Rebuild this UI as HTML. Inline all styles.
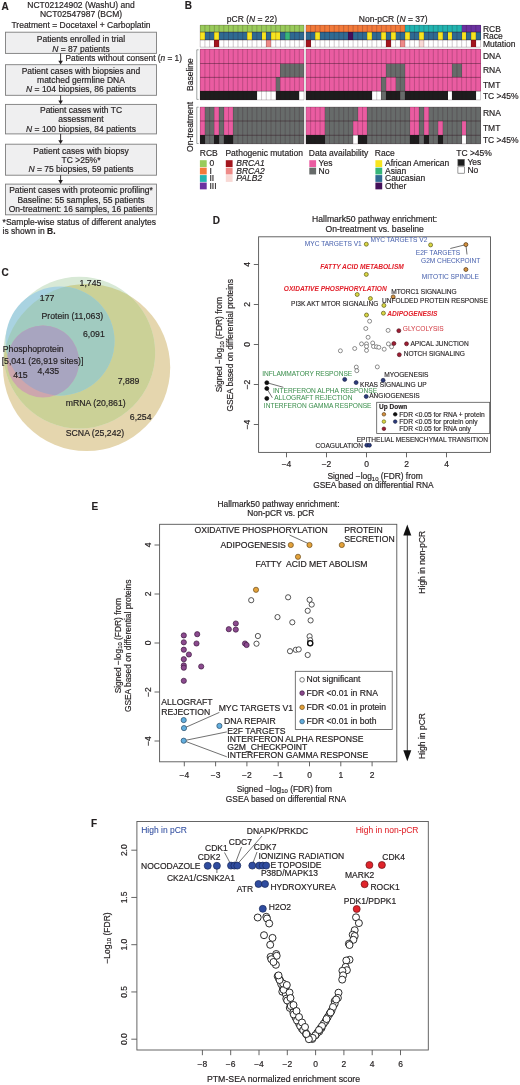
<!DOCTYPE html><html><head><meta charset="utf-8"><title>Figure</title><style>html,body{margin:0;padding:0;background:#fff;width:520px;height:1085px;overflow:hidden}svg{display:block;font-family:"Liberation Sans",Arial,Helvetica,sans-serif}text{stroke:#231f20;stroke-width:0.18px}</style></head><body>
<svg width="520" height="1085" viewBox="0 0 520 1085" fill="#231f20">
<rect x="0" y="0" width="520" height="1085" fill="#fff"/>
<text x="1.60" y="9.60" font-size="10" font-weight="bold" style="stroke-width:0.15px">A</text>
<text x="81.00" y="8.30" font-size="8.5" text-anchor="middle">NCT02124902 (WashU) and</text>
<text x="81.00" y="16.60" font-size="8.5" text-anchor="middle">NCT02547987 (BCM)</text>
<text x="81.00" y="28.00" font-size="8.5" text-anchor="middle">Treatment = Docetaxel + Carboplatin</text>
<rect x="5.50" y="32.20" width="151.00" height="21.20" fill="#efeff0" stroke="#7d7d7d" stroke-width="0.9"/>
<text x="81.00" y="41.70" font-size="8.5" text-anchor="middle">Patients enrolled in trial</text>
<text x="81.00" y="51.60" font-size="8.5" text-anchor="middle"><tspan font-style="italic">N</tspan> = 87 patients</text>
<rect x="5.50" y="64.70" width="151.00" height="30.60" fill="#efeff0" stroke="#7d7d7d" stroke-width="0.9"/>
<text x="81.00" y="74.20" font-size="8.5" text-anchor="middle">Patient cases with biopsies and</text>
<text x="81.00" y="83.00" font-size="8.5" text-anchor="middle">matched germline DNA</text>
<text x="81.00" y="92.20" font-size="8.5" text-anchor="middle"><tspan font-style="italic">N</tspan> = 104 biopsies, 86 patients</text>
<rect x="5.50" y="104.40" width="151.00" height="29.50" fill="#efeff0" stroke="#7d7d7d" stroke-width="0.9"/>
<text x="81.00" y="113.00" font-size="8.5" text-anchor="middle">Patient cases with TC</text>
<text x="81.00" y="122.10" font-size="8.5" text-anchor="middle">assessment</text>
<text x="81.00" y="131.70" font-size="8.5" text-anchor="middle"><tspan font-style="italic">N</tspan> = 100 biopsies, 84 patients</text>
<rect x="5.50" y="144.20" width="151.00" height="31.00" fill="#efeff0" stroke="#7d7d7d" stroke-width="0.9"/>
<text x="81.00" y="153.50" font-size="8.5" text-anchor="middle">Patient cases with biopsy</text>
<text x="81.00" y="162.80" font-size="8.5" text-anchor="middle">TC &gt;25%*</text>
<text x="81.00" y="172.00" font-size="8.5" text-anchor="middle"><tspan font-style="italic">N</tspan> = 75 biopsies, 59 patients</text>
<rect x="5.50" y="184.10" width="151.00" height="30.70" fill="#efeff0" stroke="#7d7d7d" stroke-width="0.9"/>
<text x="81.00" y="193.40" font-size="8.5" text-anchor="middle">Patient cases with proteomic profiling*</text>
<text x="81.00" y="202.60" font-size="8.5" text-anchor="middle">Baseline: 55 samples, 55 patients</text>
<text x="81.00" y="211.90" font-size="8.5" text-anchor="middle">On-treatment: 16 samples, 16 patients</text>
<line x1="60.60" y1="53.40" x2="60.60" y2="61.50" stroke="#231f20" stroke-width="0.9" />
<polygon points="58.30,60.70 62.90,60.70 60.60,64.50" fill="#231f20"/>
<line x1="60.60" y1="95.30" x2="60.60" y2="101.20" stroke="#231f20" stroke-width="0.9" />
<polygon points="58.30,100.40 62.90,100.40 60.60,104.20" fill="#231f20"/>
<line x1="60.60" y1="133.90" x2="60.60" y2="141.00" stroke="#231f20" stroke-width="0.9" />
<polygon points="58.30,140.20 62.90,140.20 60.60,144.00" fill="#231f20"/>
<line x1="60.60" y1="175.20" x2="60.60" y2="180.90" stroke="#231f20" stroke-width="0.9" />
<polygon points="58.30,180.10 62.90,180.10 60.60,183.90" fill="#231f20"/>
<text x="65.50" y="61.40" font-size="8.3">Patients without consent (<tspan font-style="italic">n</tspan> = 1)</text>
<text x="2.60" y="225.00" font-size="8.5">*Sample-wise status of different analytes</text>
<text x="2.60" y="234.20" font-size="8.5">is shown in <tspan font-weight="bold">B.</tspan></text>
<text x="184.80" y="9.30" font-size="10" font-weight="bold" style="stroke-width:0.15px">B</text>
<g shape-rendering="crispEdges">
<rect x="200.20" y="25.20" width="4.72" height="6.90" fill="#99cb5b"/>
<rect x="204.92" y="25.20" width="4.72" height="6.90" fill="#99cb5b"/>
<rect x="209.64" y="25.20" width="4.72" height="6.90" fill="#99cb5b"/>
<rect x="214.36" y="25.20" width="4.72" height="6.90" fill="#99cb5b"/>
<rect x="219.08" y="25.20" width="4.72" height="6.90" fill="#99cb5b"/>
<rect x="223.80" y="25.20" width="4.72" height="6.90" fill="#99cb5b"/>
<rect x="228.52" y="25.20" width="4.72" height="6.90" fill="#99cb5b"/>
<rect x="233.24" y="25.20" width="4.72" height="6.90" fill="#99cb5b"/>
<rect x="237.96" y="25.20" width="4.72" height="6.90" fill="#99cb5b"/>
<rect x="242.68" y="25.20" width="4.72" height="6.90" fill="#99cb5b"/>
<rect x="247.40" y="25.20" width="4.72" height="6.90" fill="#99cb5b"/>
<rect x="252.12" y="25.20" width="4.72" height="6.90" fill="#99cb5b"/>
<rect x="256.84" y="25.20" width="4.72" height="6.90" fill="#99cb5b"/>
<rect x="261.56" y="25.20" width="4.72" height="6.90" fill="#99cb5b"/>
<rect x="266.28" y="25.20" width="4.72" height="6.90" fill="#99cb5b"/>
<rect x="271.00" y="25.20" width="4.72" height="6.90" fill="#99cb5b"/>
<rect x="275.72" y="25.20" width="4.72" height="6.90" fill="#99cb5b"/>
<rect x="280.44" y="25.20" width="4.72" height="6.90" fill="#99cb5b"/>
<rect x="285.16" y="25.20" width="4.72" height="6.90" fill="#99cb5b"/>
<rect x="289.88" y="25.20" width="4.72" height="6.90" fill="#99cb5b"/>
<rect x="294.60" y="25.20" width="4.72" height="6.90" fill="#99cb5b"/>
<rect x="299.32" y="25.20" width="4.72" height="6.90" fill="#99cb5b"/>
<rect x="305.90" y="25.20" width="4.72" height="6.90" fill="#f27a3a"/>
<rect x="310.62" y="25.20" width="4.72" height="6.90" fill="#f27a3a"/>
<rect x="315.34" y="25.20" width="4.72" height="6.90" fill="#f27a3a"/>
<rect x="320.06" y="25.20" width="4.72" height="6.90" fill="#f27a3a"/>
<rect x="324.78" y="25.20" width="4.72" height="6.90" fill="#f27a3a"/>
<rect x="329.50" y="25.20" width="4.72" height="6.90" fill="#f27a3a"/>
<rect x="334.22" y="25.20" width="4.72" height="6.90" fill="#f27a3a"/>
<rect x="338.94" y="25.20" width="4.72" height="6.90" fill="#f27a3a"/>
<rect x="343.66" y="25.20" width="4.72" height="6.90" fill="#f27a3a"/>
<rect x="348.38" y="25.20" width="4.72" height="6.90" fill="#f27a3a"/>
<rect x="353.10" y="25.20" width="4.72" height="6.90" fill="#f27a3a"/>
<rect x="357.82" y="25.20" width="4.72" height="6.90" fill="#f27a3a"/>
<rect x="362.54" y="25.20" width="4.72" height="6.90" fill="#f27a3a"/>
<rect x="367.26" y="25.20" width="4.72" height="6.90" fill="#f27a3a"/>
<rect x="371.98" y="25.20" width="4.72" height="6.90" fill="#f27a3a"/>
<rect x="376.70" y="25.20" width="4.72" height="6.90" fill="#f27a3a"/>
<rect x="381.42" y="25.20" width="4.72" height="6.90" fill="#f27a3a"/>
<rect x="386.14" y="25.20" width="4.72" height="6.90" fill="#f27a3a"/>
<rect x="390.86" y="25.20" width="4.72" height="6.90" fill="#f27a3a"/>
<rect x="395.58" y="25.20" width="4.72" height="6.90" fill="#f27a3a"/>
<rect x="400.30" y="25.20" width="4.72" height="6.90" fill="#f27a3a"/>
<rect x="405.02" y="25.20" width="4.72" height="6.90" fill="#22b4b0"/>
<rect x="409.74" y="25.20" width="4.72" height="6.90" fill="#22b4b0"/>
<rect x="414.46" y="25.20" width="4.72" height="6.90" fill="#22b4b0"/>
<rect x="419.18" y="25.20" width="4.72" height="6.90" fill="#22b4b0"/>
<rect x="423.90" y="25.20" width="4.72" height="6.90" fill="#22b4b0"/>
<rect x="428.62" y="25.20" width="4.72" height="6.90" fill="#22b4b0"/>
<rect x="433.34" y="25.20" width="4.72" height="6.90" fill="#22b4b0"/>
<rect x="438.06" y="25.20" width="4.72" height="6.90" fill="#22b4b0"/>
<rect x="442.78" y="25.20" width="4.72" height="6.90" fill="#22b4b0"/>
<rect x="447.50" y="25.20" width="4.72" height="6.90" fill="#22b4b0"/>
<rect x="452.22" y="25.20" width="4.72" height="6.90" fill="#22b4b0"/>
<rect x="456.94" y="25.20" width="4.72" height="6.90" fill="#22b4b0"/>
<rect x="461.66" y="25.20" width="4.72" height="6.90" fill="#6a31a0"/>
<rect x="466.38" y="25.20" width="4.72" height="6.90" fill="#6a31a0"/>
<rect x="471.10" y="25.20" width="4.72" height="6.90" fill="#6a31a0"/>
<rect x="475.82" y="25.20" width="4.72" height="6.90" fill="#6a31a0"/>
<rect x="200.20" y="32.10" width="4.72" height="7.80" fill="#f7e51f"/>
<rect x="204.92" y="32.10" width="4.72" height="7.80" fill="#2f6a92"/>
<rect x="209.64" y="32.10" width="4.72" height="7.80" fill="#2f6a92"/>
<rect x="214.36" y="32.10" width="4.72" height="7.80" fill="#f7e51f"/>
<rect x="219.08" y="32.10" width="4.72" height="7.80" fill="#2f6a92"/>
<rect x="223.80" y="32.10" width="4.72" height="7.80" fill="#2f6a92"/>
<rect x="228.52" y="32.10" width="4.72" height="7.80" fill="#2f6a92"/>
<rect x="233.24" y="32.10" width="4.72" height="7.80" fill="#2f6a92"/>
<rect x="237.96" y="32.10" width="4.72" height="7.80" fill="#2f6a92"/>
<rect x="242.68" y="32.10" width="4.72" height="7.80" fill="#2f6a92"/>
<rect x="247.40" y="32.10" width="4.72" height="7.80" fill="#f7e51f"/>
<rect x="252.12" y="32.10" width="4.72" height="7.80" fill="#2f6a92"/>
<rect x="256.84" y="32.10" width="4.72" height="7.80" fill="#2f6a92"/>
<rect x="261.56" y="32.10" width="4.72" height="7.80" fill="#f7e51f"/>
<rect x="266.28" y="32.10" width="4.72" height="7.80" fill="#2f6a92"/>
<rect x="271.00" y="32.10" width="4.72" height="7.80" fill="#f7e51f"/>
<rect x="275.72" y="32.10" width="4.72" height="7.80" fill="#f7e51f"/>
<rect x="280.44" y="32.10" width="4.72" height="7.80" fill="#2f6a92"/>
<rect x="285.16" y="32.10" width="4.72" height="7.80" fill="#37b67a"/>
<rect x="289.88" y="32.10" width="4.72" height="7.80" fill="#2f6a92"/>
<rect x="294.60" y="32.10" width="4.72" height="7.80" fill="#2f6a92"/>
<rect x="299.32" y="32.10" width="4.72" height="7.80" fill="#2f6a92"/>
<rect x="305.90" y="32.10" width="4.72" height="7.80" fill="#2f6a92"/>
<rect x="310.62" y="32.10" width="4.72" height="7.80" fill="#2f6a92"/>
<rect x="315.34" y="32.10" width="4.72" height="7.80" fill="#f7e51f"/>
<rect x="320.06" y="32.10" width="4.72" height="7.80" fill="#2f6a92"/>
<rect x="324.78" y="32.10" width="4.72" height="7.80" fill="#2f6a92"/>
<rect x="329.50" y="32.10" width="4.72" height="7.80" fill="#2f6a92"/>
<rect x="334.22" y="32.10" width="4.72" height="7.80" fill="#2f6a92"/>
<rect x="338.94" y="32.10" width="4.72" height="7.80" fill="#2f6a92"/>
<rect x="343.66" y="32.10" width="4.72" height="7.80" fill="#2f6a92"/>
<rect x="348.38" y="32.10" width="4.72" height="7.80" fill="#44105a"/>
<rect x="353.10" y="32.10" width="4.72" height="7.80" fill="#2f6a92"/>
<rect x="357.82" y="32.10" width="4.72" height="7.80" fill="#2f6a92"/>
<rect x="362.54" y="32.10" width="4.72" height="7.80" fill="#2f6a92"/>
<rect x="367.26" y="32.10" width="4.72" height="7.80" fill="#f7e51f"/>
<rect x="371.98" y="32.10" width="4.72" height="7.80" fill="#2f6a92"/>
<rect x="376.70" y="32.10" width="4.72" height="7.80" fill="#2f6a92"/>
<rect x="381.42" y="32.10" width="4.72" height="7.80" fill="#f7e51f"/>
<rect x="386.14" y="32.10" width="4.72" height="7.80" fill="#2f6a92"/>
<rect x="390.86" y="32.10" width="4.72" height="7.80" fill="#f7e51f"/>
<rect x="395.58" y="32.10" width="4.72" height="7.80" fill="#2f6a92"/>
<rect x="400.30" y="32.10" width="4.72" height="7.80" fill="#2f6a92"/>
<rect x="405.02" y="32.10" width="4.72" height="7.80" fill="#f7e51f"/>
<rect x="409.74" y="32.10" width="4.72" height="7.80" fill="#2f6a92"/>
<rect x="414.46" y="32.10" width="4.72" height="7.80" fill="#2f6a92"/>
<rect x="419.18" y="32.10" width="4.72" height="7.80" fill="#f7e51f"/>
<rect x="423.90" y="32.10" width="4.72" height="7.80" fill="#2f6a92"/>
<rect x="428.62" y="32.10" width="4.72" height="7.80" fill="#2f6a92"/>
<rect x="433.34" y="32.10" width="4.72" height="7.80" fill="#2f6a92"/>
<rect x="438.06" y="32.10" width="4.72" height="7.80" fill="#f7e51f"/>
<rect x="442.78" y="32.10" width="4.72" height="7.80" fill="#2f6a92"/>
<rect x="447.50" y="32.10" width="4.72" height="7.80" fill="#f7e51f"/>
<rect x="452.22" y="32.10" width="4.72" height="7.80" fill="#2f6a92"/>
<rect x="456.94" y="32.10" width="4.72" height="7.80" fill="#2f6a92"/>
<rect x="461.66" y="32.10" width="4.72" height="7.80" fill="#f7e51f"/>
<rect x="466.38" y="32.10" width="4.72" height="7.80" fill="#2f6a92"/>
<rect x="471.10" y="32.10" width="4.72" height="7.80" fill="#f7e51f"/>
<rect x="475.82" y="32.10" width="4.72" height="7.80" fill="#2f6a92"/>
<rect x="200.20" y="39.90" width="4.72" height="7.30" fill="#ffffff"/>
<rect x="204.92" y="39.90" width="4.72" height="7.30" fill="#ffffff"/>
<rect x="209.64" y="39.90" width="4.72" height="7.30" fill="#ffffff"/>
<rect x="214.36" y="39.90" width="4.72" height="7.30" fill="#a3161e"/>
<rect x="219.08" y="39.90" width="4.72" height="7.30" fill="#ffffff"/>
<rect x="223.80" y="39.90" width="4.72" height="7.30" fill="#ffffff"/>
<rect x="228.52" y="39.90" width="4.72" height="7.30" fill="#ffffff"/>
<rect x="233.24" y="39.90" width="4.72" height="7.30" fill="#ffffff"/>
<rect x="237.96" y="39.90" width="4.72" height="7.30" fill="#ffffff"/>
<rect x="242.68" y="39.90" width="4.72" height="7.30" fill="#ffffff"/>
<rect x="247.40" y="39.90" width="4.72" height="7.30" fill="#ffffff"/>
<rect x="252.12" y="39.90" width="4.72" height="7.30" fill="#ffffff"/>
<rect x="256.84" y="39.90" width="4.72" height="7.30" fill="#ffffff"/>
<rect x="261.56" y="39.90" width="4.72" height="7.30" fill="#ffffff"/>
<rect x="266.28" y="39.90" width="4.72" height="7.30" fill="#ee8a88"/>
<rect x="271.00" y="39.90" width="4.72" height="7.30" fill="#ffffff"/>
<rect x="275.72" y="39.90" width="4.72" height="7.30" fill="#ffffff"/>
<rect x="280.44" y="39.90" width="4.72" height="7.30" fill="#ffffff"/>
<rect x="285.16" y="39.90" width="4.72" height="7.30" fill="#ffffff"/>
<rect x="289.88" y="39.90" width="4.72" height="7.30" fill="#ffffff"/>
<rect x="294.60" y="39.90" width="4.72" height="7.30" fill="#ffffff"/>
<rect x="299.32" y="39.90" width="4.72" height="7.30" fill="#ffffff"/>
<rect x="305.90" y="39.90" width="4.72" height="7.30" fill="#a3161e"/>
<rect x="310.62" y="39.90" width="4.72" height="7.30" fill="#ffffff"/>
<rect x="315.34" y="39.90" width="4.72" height="7.30" fill="#ffffff"/>
<rect x="320.06" y="39.90" width="4.72" height="7.30" fill="#ffffff"/>
<rect x="324.78" y="39.90" width="4.72" height="7.30" fill="#ffffff"/>
<rect x="329.50" y="39.90" width="4.72" height="7.30" fill="#ffffff"/>
<rect x="334.22" y="39.90" width="4.72" height="7.30" fill="#ffffff"/>
<rect x="338.94" y="39.90" width="4.72" height="7.30" fill="#ffffff"/>
<rect x="343.66" y="39.90" width="4.72" height="7.30" fill="#ffffff"/>
<rect x="348.38" y="39.90" width="4.72" height="7.30" fill="#ffffff"/>
<rect x="353.10" y="39.90" width="4.72" height="7.30" fill="#ffffff"/>
<rect x="357.82" y="39.90" width="4.72" height="7.30" fill="#ffffff"/>
<rect x="362.54" y="39.90" width="4.72" height="7.30" fill="#ffffff"/>
<rect x="367.26" y="39.90" width="4.72" height="7.30" fill="#ffffff"/>
<rect x="371.98" y="39.90" width="4.72" height="7.30" fill="#ffffff"/>
<rect x="376.70" y="39.90" width="4.72" height="7.30" fill="#ffffff"/>
<rect x="381.42" y="39.90" width="4.72" height="7.30" fill="#ffffff"/>
<rect x="386.14" y="39.90" width="4.72" height="7.30" fill="#a3161e"/>
<rect x="390.86" y="39.90" width="4.72" height="7.30" fill="#ffffff"/>
<rect x="395.58" y="39.90" width="4.72" height="7.30" fill="#ffffff"/>
<rect x="400.30" y="39.90" width="4.72" height="7.30" fill="#ee8a88"/>
<rect x="405.02" y="39.90" width="4.72" height="7.30" fill="#ffffff"/>
<rect x="409.74" y="39.90" width="4.72" height="7.30" fill="#ffffff"/>
<rect x="414.46" y="39.90" width="4.72" height="7.30" fill="#ffffff"/>
<rect x="419.18" y="39.90" width="4.72" height="7.30" fill="#f9d9d5"/>
<rect x="423.90" y="39.90" width="4.72" height="7.30" fill="#ffffff"/>
<rect x="428.62" y="39.90" width="4.72" height="7.30" fill="#ffffff"/>
<rect x="433.34" y="39.90" width="4.72" height="7.30" fill="#ffffff"/>
<rect x="438.06" y="39.90" width="4.72" height="7.30" fill="#ffffff"/>
<rect x="442.78" y="39.90" width="4.72" height="7.30" fill="#ffffff"/>
<rect x="447.50" y="39.90" width="4.72" height="7.30" fill="#ffffff"/>
<rect x="452.22" y="39.90" width="4.72" height="7.30" fill="#ffffff"/>
<rect x="456.94" y="39.90" width="4.72" height="7.30" fill="#ffffff"/>
<rect x="461.66" y="39.90" width="4.72" height="7.30" fill="#ffffff"/>
<rect x="466.38" y="39.90" width="4.72" height="7.30" fill="#ffffff"/>
<rect x="471.10" y="39.90" width="4.72" height="7.30" fill="#a3161e"/>
<rect x="475.82" y="39.90" width="4.72" height="7.30" fill="#ffffff"/>
<rect x="200.20" y="49.20" width="4.72" height="14.30" fill="#ea5ca1"/>
<rect x="204.92" y="49.20" width="4.72" height="14.30" fill="#ea5ca1"/>
<rect x="209.64" y="49.20" width="4.72" height="14.30" fill="#ea5ca1"/>
<rect x="214.36" y="49.20" width="4.72" height="14.30" fill="#ea5ca1"/>
<rect x="219.08" y="49.20" width="4.72" height="14.30" fill="#ea5ca1"/>
<rect x="223.80" y="49.20" width="4.72" height="14.30" fill="#ea5ca1"/>
<rect x="228.52" y="49.20" width="4.72" height="14.30" fill="#ea5ca1"/>
<rect x="233.24" y="49.20" width="4.72" height="14.30" fill="#ea5ca1"/>
<rect x="237.96" y="49.20" width="4.72" height="14.30" fill="#ea5ca1"/>
<rect x="242.68" y="49.20" width="4.72" height="14.30" fill="#ea5ca1"/>
<rect x="247.40" y="49.20" width="4.72" height="14.30" fill="#ea5ca1"/>
<rect x="252.12" y="49.20" width="4.72" height="14.30" fill="#ea5ca1"/>
<rect x="256.84" y="49.20" width="4.72" height="14.30" fill="#ea5ca1"/>
<rect x="261.56" y="49.20" width="4.72" height="14.30" fill="#ea5ca1"/>
<rect x="266.28" y="49.20" width="4.72" height="14.30" fill="#ea5ca1"/>
<rect x="271.00" y="49.20" width="4.72" height="14.30" fill="#ea5ca1"/>
<rect x="275.72" y="49.20" width="4.72" height="14.30" fill="#ea5ca1"/>
<rect x="280.44" y="49.20" width="4.72" height="14.30" fill="#ea5ca1"/>
<rect x="285.16" y="49.20" width="4.72" height="14.30" fill="#ea5ca1"/>
<rect x="289.88" y="49.20" width="4.72" height="14.30" fill="#ea5ca1"/>
<rect x="294.60" y="49.20" width="4.72" height="14.30" fill="#ea5ca1"/>
<rect x="299.32" y="49.20" width="4.72" height="14.30" fill="#ea5ca1"/>
<rect x="305.90" y="49.20" width="4.72" height="14.30" fill="#ea5ca1"/>
<rect x="310.62" y="49.20" width="4.72" height="14.30" fill="#ea5ca1"/>
<rect x="315.34" y="49.20" width="4.72" height="14.30" fill="#ea5ca1"/>
<rect x="320.06" y="49.20" width="4.72" height="14.30" fill="#ea5ca1"/>
<rect x="324.78" y="49.20" width="4.72" height="14.30" fill="#ea5ca1"/>
<rect x="329.50" y="49.20" width="4.72" height="14.30" fill="#ea5ca1"/>
<rect x="334.22" y="49.20" width="4.72" height="14.30" fill="#ea5ca1"/>
<rect x="338.94" y="49.20" width="4.72" height="14.30" fill="#ea5ca1"/>
<rect x="343.66" y="49.20" width="4.72" height="14.30" fill="#ea5ca1"/>
<rect x="348.38" y="49.20" width="4.72" height="14.30" fill="#ea5ca1"/>
<rect x="353.10" y="49.20" width="4.72" height="14.30" fill="#ea5ca1"/>
<rect x="357.82" y="49.20" width="4.72" height="14.30" fill="#ea5ca1"/>
<rect x="362.54" y="49.20" width="4.72" height="14.30" fill="#ea5ca1"/>
<rect x="367.26" y="49.20" width="4.72" height="14.30" fill="#ea5ca1"/>
<rect x="371.98" y="49.20" width="4.72" height="14.30" fill="#ea5ca1"/>
<rect x="376.70" y="49.20" width="4.72" height="14.30" fill="#ea5ca1"/>
<rect x="381.42" y="49.20" width="4.72" height="14.30" fill="#ea5ca1"/>
<rect x="386.14" y="49.20" width="4.72" height="14.30" fill="#ea5ca1"/>
<rect x="390.86" y="49.20" width="4.72" height="14.30" fill="#ea5ca1"/>
<rect x="395.58" y="49.20" width="4.72" height="14.30" fill="#ea5ca1"/>
<rect x="400.30" y="49.20" width="4.72" height="14.30" fill="#ea5ca1"/>
<rect x="405.02" y="49.20" width="4.72" height="14.30" fill="#ea5ca1"/>
<rect x="409.74" y="49.20" width="4.72" height="14.30" fill="#ea5ca1"/>
<rect x="414.46" y="49.20" width="4.72" height="14.30" fill="#ea5ca1"/>
<rect x="419.18" y="49.20" width="4.72" height="14.30" fill="#ea5ca1"/>
<rect x="423.90" y="49.20" width="4.72" height="14.30" fill="#ea5ca1"/>
<rect x="428.62" y="49.20" width="4.72" height="14.30" fill="#ea5ca1"/>
<rect x="433.34" y="49.20" width="4.72" height="14.30" fill="#ea5ca1"/>
<rect x="438.06" y="49.20" width="4.72" height="14.30" fill="#ea5ca1"/>
<rect x="442.78" y="49.20" width="4.72" height="14.30" fill="#ea5ca1"/>
<rect x="447.50" y="49.20" width="4.72" height="14.30" fill="#ea5ca1"/>
<rect x="452.22" y="49.20" width="4.72" height="14.30" fill="#ea5ca1"/>
<rect x="456.94" y="49.20" width="4.72" height="14.30" fill="#ea5ca1"/>
<rect x="461.66" y="49.20" width="4.72" height="14.30" fill="#ea5ca1"/>
<rect x="466.38" y="49.20" width="4.72" height="14.30" fill="#ea5ca1"/>
<rect x="471.10" y="49.20" width="4.72" height="14.30" fill="#ea5ca1"/>
<rect x="475.82" y="49.20" width="4.72" height="14.30" fill="#ea5ca1"/>
<rect x="200.20" y="63.50" width="4.72" height="13.90" fill="#ea5ca1"/>
<rect x="204.92" y="63.50" width="4.72" height="13.90" fill="#ea5ca1"/>
<rect x="209.64" y="63.50" width="4.72" height="13.90" fill="#ea5ca1"/>
<rect x="214.36" y="63.50" width="4.72" height="13.90" fill="#ea5ca1"/>
<rect x="219.08" y="63.50" width="4.72" height="13.90" fill="#ea5ca1"/>
<rect x="223.80" y="63.50" width="4.72" height="13.90" fill="#ea5ca1"/>
<rect x="228.52" y="63.50" width="4.72" height="13.90" fill="#ea5ca1"/>
<rect x="233.24" y="63.50" width="4.72" height="13.90" fill="#ea5ca1"/>
<rect x="237.96" y="63.50" width="4.72" height="13.90" fill="#ea5ca1"/>
<rect x="242.68" y="63.50" width="4.72" height="13.90" fill="#ea5ca1"/>
<rect x="247.40" y="63.50" width="4.72" height="13.90" fill="#ea5ca1"/>
<rect x="252.12" y="63.50" width="4.72" height="13.90" fill="#ea5ca1"/>
<rect x="256.84" y="63.50" width="4.72" height="13.90" fill="#ea5ca1"/>
<rect x="261.56" y="63.50" width="4.72" height="13.90" fill="#ea5ca1"/>
<rect x="266.28" y="63.50" width="4.72" height="13.90" fill="#ea5ca1"/>
<rect x="271.00" y="63.50" width="4.72" height="13.90" fill="#ea5ca1"/>
<rect x="275.72" y="63.50" width="4.72" height="13.90" fill="#ea5ca1"/>
<rect x="280.44" y="63.50" width="4.72" height="13.90" fill="#676b6a"/>
<rect x="285.16" y="63.50" width="4.72" height="13.90" fill="#676b6a"/>
<rect x="289.88" y="63.50" width="4.72" height="13.90" fill="#676b6a"/>
<rect x="294.60" y="63.50" width="4.72" height="13.90" fill="#676b6a"/>
<rect x="299.32" y="63.50" width="4.72" height="13.90" fill="#676b6a"/>
<rect x="305.90" y="63.50" width="4.72" height="13.90" fill="#ea5ca1"/>
<rect x="310.62" y="63.50" width="4.72" height="13.90" fill="#ea5ca1"/>
<rect x="315.34" y="63.50" width="4.72" height="13.90" fill="#ea5ca1"/>
<rect x="320.06" y="63.50" width="4.72" height="13.90" fill="#ea5ca1"/>
<rect x="324.78" y="63.50" width="4.72" height="13.90" fill="#ea5ca1"/>
<rect x="329.50" y="63.50" width="4.72" height="13.90" fill="#ea5ca1"/>
<rect x="334.22" y="63.50" width="4.72" height="13.90" fill="#ea5ca1"/>
<rect x="338.94" y="63.50" width="4.72" height="13.90" fill="#ea5ca1"/>
<rect x="343.66" y="63.50" width="4.72" height="13.90" fill="#ea5ca1"/>
<rect x="348.38" y="63.50" width="4.72" height="13.90" fill="#ea5ca1"/>
<rect x="353.10" y="63.50" width="4.72" height="13.90" fill="#ea5ca1"/>
<rect x="357.82" y="63.50" width="4.72" height="13.90" fill="#ea5ca1"/>
<rect x="362.54" y="63.50" width="4.72" height="13.90" fill="#ea5ca1"/>
<rect x="367.26" y="63.50" width="4.72" height="13.90" fill="#ea5ca1"/>
<rect x="371.98" y="63.50" width="4.72" height="13.90" fill="#ea5ca1"/>
<rect x="376.70" y="63.50" width="4.72" height="13.90" fill="#ea5ca1"/>
<rect x="381.42" y="63.50" width="4.72" height="13.90" fill="#ea5ca1"/>
<rect x="386.14" y="63.50" width="4.72" height="13.90" fill="#676b6a"/>
<rect x="390.86" y="63.50" width="4.72" height="13.90" fill="#676b6a"/>
<rect x="395.58" y="63.50" width="4.72" height="13.90" fill="#676b6a"/>
<rect x="400.30" y="63.50" width="4.72" height="13.90" fill="#676b6a"/>
<rect x="405.02" y="63.50" width="4.72" height="13.90" fill="#ea5ca1"/>
<rect x="409.74" y="63.50" width="4.72" height="13.90" fill="#ea5ca1"/>
<rect x="414.46" y="63.50" width="4.72" height="13.90" fill="#ea5ca1"/>
<rect x="419.18" y="63.50" width="4.72" height="13.90" fill="#ea5ca1"/>
<rect x="423.90" y="63.50" width="4.72" height="13.90" fill="#ea5ca1"/>
<rect x="428.62" y="63.50" width="4.72" height="13.90" fill="#ea5ca1"/>
<rect x="433.34" y="63.50" width="4.72" height="13.90" fill="#ea5ca1"/>
<rect x="438.06" y="63.50" width="4.72" height="13.90" fill="#ea5ca1"/>
<rect x="442.78" y="63.50" width="4.72" height="13.90" fill="#ea5ca1"/>
<rect x="447.50" y="63.50" width="4.72" height="13.90" fill="#ea5ca1"/>
<rect x="452.22" y="63.50" width="4.72" height="13.90" fill="#676b6a"/>
<rect x="456.94" y="63.50" width="4.72" height="13.90" fill="#676b6a"/>
<rect x="461.66" y="63.50" width="4.72" height="13.90" fill="#ea5ca1"/>
<rect x="466.38" y="63.50" width="4.72" height="13.90" fill="#ea5ca1"/>
<rect x="471.10" y="63.50" width="4.72" height="13.90" fill="#ea5ca1"/>
<rect x="475.82" y="63.50" width="4.72" height="13.90" fill="#ea5ca1"/>
<rect x="200.20" y="77.40" width="4.72" height="13.90" fill="#ea5ca1"/>
<rect x="204.92" y="77.40" width="4.72" height="13.90" fill="#ea5ca1"/>
<rect x="209.64" y="77.40" width="4.72" height="13.90" fill="#ea5ca1"/>
<rect x="214.36" y="77.40" width="4.72" height="13.90" fill="#ea5ca1"/>
<rect x="219.08" y="77.40" width="4.72" height="13.90" fill="#ea5ca1"/>
<rect x="223.80" y="77.40" width="4.72" height="13.90" fill="#ea5ca1"/>
<rect x="228.52" y="77.40" width="4.72" height="13.90" fill="#ea5ca1"/>
<rect x="233.24" y="77.40" width="4.72" height="13.90" fill="#ea5ca1"/>
<rect x="237.96" y="77.40" width="4.72" height="13.90" fill="#ea5ca1"/>
<rect x="242.68" y="77.40" width="4.72" height="13.90" fill="#ea5ca1"/>
<rect x="247.40" y="77.40" width="4.72" height="13.90" fill="#ea5ca1"/>
<rect x="252.12" y="77.40" width="4.72" height="13.90" fill="#ea5ca1"/>
<rect x="256.84" y="77.40" width="4.72" height="13.90" fill="#ea5ca1"/>
<rect x="261.56" y="77.40" width="4.72" height="13.90" fill="#ea5ca1"/>
<rect x="266.28" y="77.40" width="4.72" height="13.90" fill="#ea5ca1"/>
<rect x="271.00" y="77.40" width="4.72" height="13.90" fill="#ea5ca1"/>
<rect x="275.72" y="77.40" width="4.72" height="13.90" fill="#676b6a"/>
<rect x="280.44" y="77.40" width="4.72" height="13.90" fill="#ea5ca1"/>
<rect x="285.16" y="77.40" width="4.72" height="13.90" fill="#ea5ca1"/>
<rect x="289.88" y="77.40" width="4.72" height="13.90" fill="#ea5ca1"/>
<rect x="294.60" y="77.40" width="4.72" height="13.90" fill="#ea5ca1"/>
<rect x="299.32" y="77.40" width="4.72" height="13.90" fill="#ea5ca1"/>
<rect x="305.90" y="77.40" width="4.72" height="13.90" fill="#ea5ca1"/>
<rect x="310.62" y="77.40" width="4.72" height="13.90" fill="#ea5ca1"/>
<rect x="315.34" y="77.40" width="4.72" height="13.90" fill="#ea5ca1"/>
<rect x="320.06" y="77.40" width="4.72" height="13.90" fill="#ea5ca1"/>
<rect x="324.78" y="77.40" width="4.72" height="13.90" fill="#ea5ca1"/>
<rect x="329.50" y="77.40" width="4.72" height="13.90" fill="#ea5ca1"/>
<rect x="334.22" y="77.40" width="4.72" height="13.90" fill="#ea5ca1"/>
<rect x="338.94" y="77.40" width="4.72" height="13.90" fill="#ea5ca1"/>
<rect x="343.66" y="77.40" width="4.72" height="13.90" fill="#ea5ca1"/>
<rect x="348.38" y="77.40" width="4.72" height="13.90" fill="#ea5ca1"/>
<rect x="353.10" y="77.40" width="4.72" height="13.90" fill="#ea5ca1"/>
<rect x="357.82" y="77.40" width="4.72" height="13.90" fill="#ea5ca1"/>
<rect x="362.54" y="77.40" width="4.72" height="13.90" fill="#ea5ca1"/>
<rect x="367.26" y="77.40" width="4.72" height="13.90" fill="#ea5ca1"/>
<rect x="371.98" y="77.40" width="4.72" height="13.90" fill="#ea5ca1"/>
<rect x="376.70" y="77.40" width="4.72" height="13.90" fill="#ea5ca1"/>
<rect x="381.42" y="77.40" width="4.72" height="13.90" fill="#676b6a"/>
<rect x="386.14" y="77.40" width="4.72" height="13.90" fill="#ea5ca1"/>
<rect x="390.86" y="77.40" width="4.72" height="13.90" fill="#ea5ca1"/>
<rect x="395.58" y="77.40" width="4.72" height="13.90" fill="#676b6a"/>
<rect x="400.30" y="77.40" width="4.72" height="13.90" fill="#676b6a"/>
<rect x="405.02" y="77.40" width="4.72" height="13.90" fill="#ea5ca1"/>
<rect x="409.74" y="77.40" width="4.72" height="13.90" fill="#ea5ca1"/>
<rect x="414.46" y="77.40" width="4.72" height="13.90" fill="#ea5ca1"/>
<rect x="419.18" y="77.40" width="4.72" height="13.90" fill="#ea5ca1"/>
<rect x="423.90" y="77.40" width="4.72" height="13.90" fill="#ea5ca1"/>
<rect x="428.62" y="77.40" width="4.72" height="13.90" fill="#ea5ca1"/>
<rect x="433.34" y="77.40" width="4.72" height="13.90" fill="#ea5ca1"/>
<rect x="438.06" y="77.40" width="4.72" height="13.90" fill="#ea5ca1"/>
<rect x="442.78" y="77.40" width="4.72" height="13.90" fill="#ea5ca1"/>
<rect x="447.50" y="77.40" width="4.72" height="13.90" fill="#ea5ca1"/>
<rect x="452.22" y="77.40" width="4.72" height="13.90" fill="#ea5ca1"/>
<rect x="456.94" y="77.40" width="4.72" height="13.90" fill="#ea5ca1"/>
<rect x="461.66" y="77.40" width="4.72" height="13.90" fill="#ea5ca1"/>
<rect x="466.38" y="77.40" width="4.72" height="13.90" fill="#ea5ca1"/>
<rect x="471.10" y="77.40" width="4.72" height="13.90" fill="#ea5ca1"/>
<rect x="475.82" y="77.40" width="4.72" height="13.90" fill="#ea5ca1"/>
<rect x="200.20" y="91.30" width="4.72" height="8.60" fill="#1d1d1d"/>
<rect x="204.92" y="91.30" width="4.72" height="8.60" fill="#1d1d1d"/>
<rect x="209.64" y="91.30" width="4.72" height="8.60" fill="#1d1d1d"/>
<rect x="214.36" y="91.30" width="4.72" height="8.60" fill="#1d1d1d"/>
<rect x="219.08" y="91.30" width="4.72" height="8.60" fill="#1d1d1d"/>
<rect x="223.80" y="91.30" width="4.72" height="8.60" fill="#1d1d1d"/>
<rect x="228.52" y="91.30" width="4.72" height="8.60" fill="#1d1d1d"/>
<rect x="233.24" y="91.30" width="4.72" height="8.60" fill="#1d1d1d"/>
<rect x="237.96" y="91.30" width="4.72" height="8.60" fill="#1d1d1d"/>
<rect x="242.68" y="91.30" width="4.72" height="8.60" fill="#1d1d1d"/>
<rect x="247.40" y="91.30" width="4.72" height="8.60" fill="#1d1d1d"/>
<rect x="252.12" y="91.30" width="4.72" height="8.60" fill="#1d1d1d"/>
<rect x="256.84" y="91.30" width="4.72" height="8.60" fill="#ffffff"/>
<rect x="261.56" y="91.30" width="4.72" height="8.60" fill="#ffffff"/>
<rect x="266.28" y="91.30" width="4.72" height="8.60" fill="#ffffff"/>
<rect x="271.00" y="91.30" width="4.72" height="8.60" fill="#ffffff"/>
<rect x="275.72" y="91.30" width="4.72" height="8.60" fill="#1d1d1d"/>
<rect x="280.44" y="91.30" width="4.72" height="8.60" fill="#1d1d1d"/>
<rect x="285.16" y="91.30" width="4.72" height="8.60" fill="#1d1d1d"/>
<rect x="289.88" y="91.30" width="4.72" height="8.60" fill="#1d1d1d"/>
<rect x="294.60" y="91.30" width="4.72" height="8.60" fill="#1d1d1d"/>
<rect x="299.32" y="91.30" width="4.72" height="8.60" fill="#ffffff"/>
<rect x="305.90" y="91.30" width="4.72" height="8.60" fill="#1d1d1d"/>
<rect x="310.62" y="91.30" width="4.72" height="8.60" fill="#1d1d1d"/>
<rect x="315.34" y="91.30" width="4.72" height="8.60" fill="#1d1d1d"/>
<rect x="320.06" y="91.30" width="4.72" height="8.60" fill="#1d1d1d"/>
<rect x="324.78" y="91.30" width="4.72" height="8.60" fill="#1d1d1d"/>
<rect x="329.50" y="91.30" width="4.72" height="8.60" fill="#1d1d1d"/>
<rect x="334.22" y="91.30" width="4.72" height="8.60" fill="#1d1d1d"/>
<rect x="338.94" y="91.30" width="4.72" height="8.60" fill="#1d1d1d"/>
<rect x="343.66" y="91.30" width="4.72" height="8.60" fill="#1d1d1d"/>
<rect x="348.38" y="91.30" width="4.72" height="8.60" fill="#1d1d1d"/>
<rect x="353.10" y="91.30" width="4.72" height="8.60" fill="#1d1d1d"/>
<rect x="357.82" y="91.30" width="4.72" height="8.60" fill="#1d1d1d"/>
<rect x="362.54" y="91.30" width="4.72" height="8.60" fill="#1d1d1d"/>
<rect x="367.26" y="91.30" width="4.72" height="8.60" fill="#1d1d1d"/>
<rect x="371.98" y="91.30" width="4.72" height="8.60" fill="#ffffff"/>
<rect x="376.70" y="91.30" width="4.72" height="8.60" fill="#ffffff"/>
<rect x="381.42" y="91.30" width="4.72" height="8.60" fill="#676b6a"/>
<rect x="386.14" y="91.30" width="4.72" height="8.60" fill="#1d1d1d"/>
<rect x="390.86" y="91.30" width="4.72" height="8.60" fill="#1d1d1d"/>
<rect x="395.58" y="91.30" width="4.72" height="8.60" fill="#1d1d1d"/>
<rect x="400.30" y="91.30" width="4.72" height="8.60" fill="#676b6a"/>
<rect x="405.02" y="91.30" width="4.72" height="8.60" fill="#1d1d1d"/>
<rect x="409.74" y="91.30" width="4.72" height="8.60" fill="#1d1d1d"/>
<rect x="414.46" y="91.30" width="4.72" height="8.60" fill="#1d1d1d"/>
<rect x="419.18" y="91.30" width="4.72" height="8.60" fill="#1d1d1d"/>
<rect x="423.90" y="91.30" width="4.72" height="8.60" fill="#1d1d1d"/>
<rect x="428.62" y="91.30" width="4.72" height="8.60" fill="#1d1d1d"/>
<rect x="433.34" y="91.30" width="4.72" height="8.60" fill="#1d1d1d"/>
<rect x="438.06" y="91.30" width="4.72" height="8.60" fill="#1d1d1d"/>
<rect x="442.78" y="91.30" width="4.72" height="8.60" fill="#1d1d1d"/>
<rect x="447.50" y="91.30" width="4.72" height="8.60" fill="#ffffff"/>
<rect x="452.22" y="91.30" width="4.72" height="8.60" fill="#1d1d1d"/>
<rect x="456.94" y="91.30" width="4.72" height="8.60" fill="#1d1d1d"/>
<rect x="461.66" y="91.30" width="4.72" height="8.60" fill="#1d1d1d"/>
<rect x="466.38" y="91.30" width="4.72" height="8.60" fill="#1d1d1d"/>
<rect x="471.10" y="91.30" width="4.72" height="8.60" fill="#1d1d1d"/>
<rect x="475.82" y="91.30" width="4.72" height="8.60" fill="#ffffff"/>
<rect x="200.20" y="107.00" width="4.72" height="14.00" fill="#ea5ca1"/>
<rect x="204.92" y="107.00" width="4.72" height="14.00" fill="#676b6a"/>
<rect x="209.64" y="107.00" width="4.72" height="14.00" fill="#676b6a"/>
<rect x="214.36" y="107.00" width="4.72" height="14.00" fill="#ea5ca1"/>
<rect x="219.08" y="107.00" width="4.72" height="14.00" fill="#676b6a"/>
<rect x="223.80" y="107.00" width="4.72" height="14.00" fill="#ea5ca1"/>
<rect x="228.52" y="107.00" width="4.72" height="14.00" fill="#ea5ca1"/>
<rect x="233.24" y="107.00" width="4.72" height="14.00" fill="#676b6a"/>
<rect x="237.96" y="107.00" width="4.72" height="14.00" fill="#676b6a"/>
<rect x="242.68" y="107.00" width="4.72" height="14.00" fill="#676b6a"/>
<rect x="247.40" y="107.00" width="4.72" height="14.00" fill="#676b6a"/>
<rect x="252.12" y="107.00" width="4.72" height="14.00" fill="#676b6a"/>
<rect x="256.84" y="107.00" width="4.72" height="14.00" fill="#676b6a"/>
<rect x="261.56" y="107.00" width="4.72" height="14.00" fill="#676b6a"/>
<rect x="266.28" y="107.00" width="4.72" height="14.00" fill="#676b6a"/>
<rect x="271.00" y="107.00" width="4.72" height="14.00" fill="#676b6a"/>
<rect x="275.72" y="107.00" width="4.72" height="14.00" fill="#676b6a"/>
<rect x="280.44" y="107.00" width="4.72" height="14.00" fill="#676b6a"/>
<rect x="285.16" y="107.00" width="4.72" height="14.00" fill="#676b6a"/>
<rect x="289.88" y="107.00" width="4.72" height="14.00" fill="#676b6a"/>
<rect x="294.60" y="107.00" width="4.72" height="14.00" fill="#676b6a"/>
<rect x="299.32" y="107.00" width="4.72" height="14.00" fill="#676b6a"/>
<rect x="305.90" y="107.00" width="4.72" height="14.00" fill="#ea5ca1"/>
<rect x="310.62" y="107.00" width="4.72" height="14.00" fill="#ea5ca1"/>
<rect x="315.34" y="107.00" width="4.72" height="14.00" fill="#ea5ca1"/>
<rect x="320.06" y="107.00" width="4.72" height="14.00" fill="#ea5ca1"/>
<rect x="324.78" y="107.00" width="4.72" height="14.00" fill="#676b6a"/>
<rect x="329.50" y="107.00" width="4.72" height="14.00" fill="#676b6a"/>
<rect x="334.22" y="107.00" width="4.72" height="14.00" fill="#676b6a"/>
<rect x="338.94" y="107.00" width="4.72" height="14.00" fill="#676b6a"/>
<rect x="343.66" y="107.00" width="4.72" height="14.00" fill="#676b6a"/>
<rect x="348.38" y="107.00" width="4.72" height="14.00" fill="#676b6a"/>
<rect x="353.10" y="107.00" width="4.72" height="14.00" fill="#676b6a"/>
<rect x="357.82" y="107.00" width="4.72" height="14.00" fill="#ea5ca1"/>
<rect x="362.54" y="107.00" width="4.72" height="14.00" fill="#ea5ca1"/>
<rect x="367.26" y="107.00" width="4.72" height="14.00" fill="#676b6a"/>
<rect x="371.98" y="107.00" width="4.72" height="14.00" fill="#676b6a"/>
<rect x="376.70" y="107.00" width="4.72" height="14.00" fill="#676b6a"/>
<rect x="381.42" y="107.00" width="4.72" height="14.00" fill="#676b6a"/>
<rect x="386.14" y="107.00" width="4.72" height="14.00" fill="#676b6a"/>
<rect x="390.86" y="107.00" width="4.72" height="14.00" fill="#676b6a"/>
<rect x="395.58" y="107.00" width="4.72" height="14.00" fill="#676b6a"/>
<rect x="400.30" y="107.00" width="4.72" height="14.00" fill="#676b6a"/>
<rect x="405.02" y="107.00" width="4.72" height="14.00" fill="#676b6a"/>
<rect x="409.74" y="107.00" width="4.72" height="14.00" fill="#ea5ca1"/>
<rect x="414.46" y="107.00" width="4.72" height="14.00" fill="#ea5ca1"/>
<rect x="419.18" y="107.00" width="4.72" height="14.00" fill="#676b6a"/>
<rect x="423.90" y="107.00" width="4.72" height="14.00" fill="#ea5ca1"/>
<rect x="428.62" y="107.00" width="4.72" height="14.00" fill="#676b6a"/>
<rect x="433.34" y="107.00" width="4.72" height="14.00" fill="#676b6a"/>
<rect x="438.06" y="107.00" width="4.72" height="14.00" fill="#676b6a"/>
<rect x="442.78" y="107.00" width="4.72" height="14.00" fill="#676b6a"/>
<rect x="447.50" y="107.00" width="4.72" height="14.00" fill="#676b6a"/>
<rect x="452.22" y="107.00" width="4.72" height="14.00" fill="#676b6a"/>
<rect x="456.94" y="107.00" width="4.72" height="14.00" fill="#676b6a"/>
<rect x="461.66" y="107.00" width="4.72" height="14.00" fill="#676b6a"/>
<rect x="466.38" y="107.00" width="4.72" height="14.00" fill="#676b6a"/>
<rect x="471.10" y="107.00" width="4.72" height="14.00" fill="#676b6a"/>
<rect x="475.82" y="107.00" width="4.72" height="14.00" fill="#676b6a"/>
<rect x="200.20" y="121.00" width="4.72" height="14.30" fill="#ea5ca1"/>
<rect x="204.92" y="121.00" width="4.72" height="14.30" fill="#676b6a"/>
<rect x="209.64" y="121.00" width="4.72" height="14.30" fill="#676b6a"/>
<rect x="214.36" y="121.00" width="4.72" height="14.30" fill="#ea5ca1"/>
<rect x="219.08" y="121.00" width="4.72" height="14.30" fill="#676b6a"/>
<rect x="223.80" y="121.00" width="4.72" height="14.30" fill="#ea5ca1"/>
<rect x="228.52" y="121.00" width="4.72" height="14.30" fill="#ea5ca1"/>
<rect x="233.24" y="121.00" width="4.72" height="14.30" fill="#676b6a"/>
<rect x="237.96" y="121.00" width="4.72" height="14.30" fill="#676b6a"/>
<rect x="242.68" y="121.00" width="4.72" height="14.30" fill="#676b6a"/>
<rect x="247.40" y="121.00" width="4.72" height="14.30" fill="#676b6a"/>
<rect x="252.12" y="121.00" width="4.72" height="14.30" fill="#676b6a"/>
<rect x="256.84" y="121.00" width="4.72" height="14.30" fill="#676b6a"/>
<rect x="261.56" y="121.00" width="4.72" height="14.30" fill="#676b6a"/>
<rect x="266.28" y="121.00" width="4.72" height="14.30" fill="#676b6a"/>
<rect x="271.00" y="121.00" width="4.72" height="14.30" fill="#676b6a"/>
<rect x="275.72" y="121.00" width="4.72" height="14.30" fill="#676b6a"/>
<rect x="280.44" y="121.00" width="4.72" height="14.30" fill="#676b6a"/>
<rect x="285.16" y="121.00" width="4.72" height="14.30" fill="#676b6a"/>
<rect x="289.88" y="121.00" width="4.72" height="14.30" fill="#676b6a"/>
<rect x="294.60" y="121.00" width="4.72" height="14.30" fill="#676b6a"/>
<rect x="299.32" y="121.00" width="4.72" height="14.30" fill="#676b6a"/>
<rect x="305.90" y="121.00" width="4.72" height="14.30" fill="#ea5ca1"/>
<rect x="310.62" y="121.00" width="4.72" height="14.30" fill="#ea5ca1"/>
<rect x="315.34" y="121.00" width="4.72" height="14.30" fill="#ea5ca1"/>
<rect x="320.06" y="121.00" width="4.72" height="14.30" fill="#ea5ca1"/>
<rect x="324.78" y="121.00" width="4.72" height="14.30" fill="#676b6a"/>
<rect x="329.50" y="121.00" width="4.72" height="14.30" fill="#676b6a"/>
<rect x="334.22" y="121.00" width="4.72" height="14.30" fill="#676b6a"/>
<rect x="338.94" y="121.00" width="4.72" height="14.30" fill="#676b6a"/>
<rect x="343.66" y="121.00" width="4.72" height="14.30" fill="#676b6a"/>
<rect x="348.38" y="121.00" width="4.72" height="14.30" fill="#676b6a"/>
<rect x="353.10" y="121.00" width="4.72" height="14.30" fill="#ea5ca1"/>
<rect x="357.82" y="121.00" width="4.72" height="14.30" fill="#ea5ca1"/>
<rect x="362.54" y="121.00" width="4.72" height="14.30" fill="#ea5ca1"/>
<rect x="367.26" y="121.00" width="4.72" height="14.30" fill="#676b6a"/>
<rect x="371.98" y="121.00" width="4.72" height="14.30" fill="#676b6a"/>
<rect x="376.70" y="121.00" width="4.72" height="14.30" fill="#676b6a"/>
<rect x="381.42" y="121.00" width="4.72" height="14.30" fill="#676b6a"/>
<rect x="386.14" y="121.00" width="4.72" height="14.30" fill="#676b6a"/>
<rect x="390.86" y="121.00" width="4.72" height="14.30" fill="#676b6a"/>
<rect x="395.58" y="121.00" width="4.72" height="14.30" fill="#676b6a"/>
<rect x="400.30" y="121.00" width="4.72" height="14.30" fill="#676b6a"/>
<rect x="405.02" y="121.00" width="4.72" height="14.30" fill="#676b6a"/>
<rect x="409.74" y="121.00" width="4.72" height="14.30" fill="#ea5ca1"/>
<rect x="414.46" y="121.00" width="4.72" height="14.30" fill="#ea5ca1"/>
<rect x="419.18" y="121.00" width="4.72" height="14.30" fill="#676b6a"/>
<rect x="423.90" y="121.00" width="4.72" height="14.30" fill="#ea5ca1"/>
<rect x="428.62" y="121.00" width="4.72" height="14.30" fill="#676b6a"/>
<rect x="433.34" y="121.00" width="4.72" height="14.30" fill="#676b6a"/>
<rect x="438.06" y="121.00" width="4.72" height="14.30" fill="#ea5ca1"/>
<rect x="442.78" y="121.00" width="4.72" height="14.30" fill="#676b6a"/>
<rect x="447.50" y="121.00" width="4.72" height="14.30" fill="#676b6a"/>
<rect x="452.22" y="121.00" width="4.72" height="14.30" fill="#676b6a"/>
<rect x="456.94" y="121.00" width="4.72" height="14.30" fill="#676b6a"/>
<rect x="461.66" y="121.00" width="4.72" height="14.30" fill="#ea5ca1"/>
<rect x="466.38" y="121.00" width="4.72" height="14.30" fill="#676b6a"/>
<rect x="471.10" y="121.00" width="4.72" height="14.30" fill="#676b6a"/>
<rect x="475.82" y="121.00" width="4.72" height="14.30" fill="#676b6a"/>
<rect x="200.20" y="135.30" width="4.72" height="8.50" fill="#1d1d1d"/>
<rect x="204.92" y="135.30" width="4.72" height="8.50" fill="#676b6a"/>
<rect x="209.64" y="135.30" width="4.72" height="8.50" fill="#676b6a"/>
<rect x="214.36" y="135.30" width="4.72" height="8.50" fill="#1d1d1d"/>
<rect x="219.08" y="135.30" width="4.72" height="8.50" fill="#676b6a"/>
<rect x="223.80" y="135.30" width="4.72" height="8.50" fill="#1d1d1d"/>
<rect x="228.52" y="135.30" width="4.72" height="8.50" fill="#1d1d1d"/>
<rect x="233.24" y="135.30" width="4.72" height="8.50" fill="#676b6a"/>
<rect x="237.96" y="135.30" width="4.72" height="8.50" fill="#676b6a"/>
<rect x="242.68" y="135.30" width="4.72" height="8.50" fill="#676b6a"/>
<rect x="247.40" y="135.30" width="4.72" height="8.50" fill="#676b6a"/>
<rect x="252.12" y="135.30" width="4.72" height="8.50" fill="#676b6a"/>
<rect x="256.84" y="135.30" width="4.72" height="8.50" fill="#676b6a"/>
<rect x="261.56" y="135.30" width="4.72" height="8.50" fill="#676b6a"/>
<rect x="266.28" y="135.30" width="4.72" height="8.50" fill="#676b6a"/>
<rect x="271.00" y="135.30" width="4.72" height="8.50" fill="#676b6a"/>
<rect x="275.72" y="135.30" width="4.72" height="8.50" fill="#676b6a"/>
<rect x="280.44" y="135.30" width="4.72" height="8.50" fill="#676b6a"/>
<rect x="285.16" y="135.30" width="4.72" height="8.50" fill="#676b6a"/>
<rect x="289.88" y="135.30" width="4.72" height="8.50" fill="#676b6a"/>
<rect x="294.60" y="135.30" width="4.72" height="8.50" fill="#676b6a"/>
<rect x="299.32" y="135.30" width="4.72" height="8.50" fill="#676b6a"/>
<rect x="305.90" y="135.30" width="4.72" height="8.50" fill="#1d1d1d"/>
<rect x="310.62" y="135.30" width="4.72" height="8.50" fill="#1d1d1d"/>
<rect x="315.34" y="135.30" width="4.72" height="8.50" fill="#1d1d1d"/>
<rect x="320.06" y="135.30" width="4.72" height="8.50" fill="#1d1d1d"/>
<rect x="324.78" y="135.30" width="4.72" height="8.50" fill="#676b6a"/>
<rect x="329.50" y="135.30" width="4.72" height="8.50" fill="#676b6a"/>
<rect x="334.22" y="135.30" width="4.72" height="8.50" fill="#676b6a"/>
<rect x="338.94" y="135.30" width="4.72" height="8.50" fill="#676b6a"/>
<rect x="343.66" y="135.30" width="4.72" height="8.50" fill="#676b6a"/>
<rect x="348.38" y="135.30" width="4.72" height="8.50" fill="#676b6a"/>
<rect x="353.10" y="135.30" width="4.72" height="8.50" fill="#ffffff"/>
<rect x="357.82" y="135.30" width="4.72" height="8.50" fill="#1d1d1d"/>
<rect x="362.54" y="135.30" width="4.72" height="8.50" fill="#1d1d1d"/>
<rect x="367.26" y="135.30" width="4.72" height="8.50" fill="#676b6a"/>
<rect x="371.98" y="135.30" width="4.72" height="8.50" fill="#676b6a"/>
<rect x="376.70" y="135.30" width="4.72" height="8.50" fill="#676b6a"/>
<rect x="381.42" y="135.30" width="4.72" height="8.50" fill="#676b6a"/>
<rect x="386.14" y="135.30" width="4.72" height="8.50" fill="#676b6a"/>
<rect x="390.86" y="135.30" width="4.72" height="8.50" fill="#676b6a"/>
<rect x="395.58" y="135.30" width="4.72" height="8.50" fill="#676b6a"/>
<rect x="400.30" y="135.30" width="4.72" height="8.50" fill="#676b6a"/>
<rect x="405.02" y="135.30" width="4.72" height="8.50" fill="#676b6a"/>
<rect x="409.74" y="135.30" width="4.72" height="8.50" fill="#1d1d1d"/>
<rect x="414.46" y="135.30" width="4.72" height="8.50" fill="#1d1d1d"/>
<rect x="419.18" y="135.30" width="4.72" height="8.50" fill="#676b6a"/>
<rect x="423.90" y="135.30" width="4.72" height="8.50" fill="#1d1d1d"/>
<rect x="428.62" y="135.30" width="4.72" height="8.50" fill="#676b6a"/>
<rect x="433.34" y="135.30" width="4.72" height="8.50" fill="#676b6a"/>
<rect x="438.06" y="135.30" width="4.72" height="8.50" fill="#1d1d1d"/>
<rect x="442.78" y="135.30" width="4.72" height="8.50" fill="#676b6a"/>
<rect x="447.50" y="135.30" width="4.72" height="8.50" fill="#676b6a"/>
<rect x="452.22" y="135.30" width="4.72" height="8.50" fill="#676b6a"/>
<rect x="456.94" y="135.30" width="4.72" height="8.50" fill="#676b6a"/>
<rect x="461.66" y="135.30" width="4.72" height="8.50" fill="#ffffff"/>
<rect x="466.38" y="135.30" width="4.72" height="8.50" fill="#676b6a"/>
<rect x="471.10" y="135.30" width="4.72" height="8.50" fill="#676b6a"/>
<rect x="475.82" y="135.30" width="4.72" height="8.50" fill="#676b6a"/>
</g>
<g stroke="#2a1020" stroke-opacity="0.42" stroke-width="0.55" fill="none">
<line x1="200.20" y1="25.20" x2="200.20" y2="47.20"/>
<line x1="204.92" y1="25.20" x2="204.92" y2="47.20"/>
<line x1="209.64" y1="25.20" x2="209.64" y2="47.20"/>
<line x1="214.36" y1="25.20" x2="214.36" y2="47.20"/>
<line x1="219.08" y1="25.20" x2="219.08" y2="47.20"/>
<line x1="223.80" y1="25.20" x2="223.80" y2="47.20"/>
<line x1="228.52" y1="25.20" x2="228.52" y2="47.20"/>
<line x1="233.24" y1="25.20" x2="233.24" y2="47.20"/>
<line x1="237.96" y1="25.20" x2="237.96" y2="47.20"/>
<line x1="242.68" y1="25.20" x2="242.68" y2="47.20"/>
<line x1="247.40" y1="25.20" x2="247.40" y2="47.20"/>
<line x1="252.12" y1="25.20" x2="252.12" y2="47.20"/>
<line x1="256.84" y1="25.20" x2="256.84" y2="47.20"/>
<line x1="261.56" y1="25.20" x2="261.56" y2="47.20"/>
<line x1="266.28" y1="25.20" x2="266.28" y2="47.20"/>
<line x1="271.00" y1="25.20" x2="271.00" y2="47.20"/>
<line x1="275.72" y1="25.20" x2="275.72" y2="47.20"/>
<line x1="280.44" y1="25.20" x2="280.44" y2="47.20"/>
<line x1="285.16" y1="25.20" x2="285.16" y2="47.20"/>
<line x1="289.88" y1="25.20" x2="289.88" y2="47.20"/>
<line x1="294.60" y1="25.20" x2="294.60" y2="47.20"/>
<line x1="299.32" y1="25.20" x2="299.32" y2="47.20"/>
<line x1="304.04" y1="25.20" x2="304.04" y2="47.20"/>
<line x1="305.90" y1="25.20" x2="305.90" y2="47.20"/>
<line x1="310.62" y1="25.20" x2="310.62" y2="47.20"/>
<line x1="315.34" y1="25.20" x2="315.34" y2="47.20"/>
<line x1="320.06" y1="25.20" x2="320.06" y2="47.20"/>
<line x1="324.78" y1="25.20" x2="324.78" y2="47.20"/>
<line x1="329.50" y1="25.20" x2="329.50" y2="47.20"/>
<line x1="334.22" y1="25.20" x2="334.22" y2="47.20"/>
<line x1="338.94" y1="25.20" x2="338.94" y2="47.20"/>
<line x1="343.66" y1="25.20" x2="343.66" y2="47.20"/>
<line x1="348.38" y1="25.20" x2="348.38" y2="47.20"/>
<line x1="353.10" y1="25.20" x2="353.10" y2="47.20"/>
<line x1="357.82" y1="25.20" x2="357.82" y2="47.20"/>
<line x1="362.54" y1="25.20" x2="362.54" y2="47.20"/>
<line x1="367.26" y1="25.20" x2="367.26" y2="47.20"/>
<line x1="371.98" y1="25.20" x2="371.98" y2="47.20"/>
<line x1="376.70" y1="25.20" x2="376.70" y2="47.20"/>
<line x1="381.42" y1="25.20" x2="381.42" y2="47.20"/>
<line x1="386.14" y1="25.20" x2="386.14" y2="47.20"/>
<line x1="390.86" y1="25.20" x2="390.86" y2="47.20"/>
<line x1="395.58" y1="25.20" x2="395.58" y2="47.20"/>
<line x1="400.30" y1="25.20" x2="400.30" y2="47.20"/>
<line x1="405.02" y1="25.20" x2="405.02" y2="47.20"/>
<line x1="409.74" y1="25.20" x2="409.74" y2="47.20"/>
<line x1="414.46" y1="25.20" x2="414.46" y2="47.20"/>
<line x1="419.18" y1="25.20" x2="419.18" y2="47.20"/>
<line x1="423.90" y1="25.20" x2="423.90" y2="47.20"/>
<line x1="428.62" y1="25.20" x2="428.62" y2="47.20"/>
<line x1="433.34" y1="25.20" x2="433.34" y2="47.20"/>
<line x1="438.06" y1="25.20" x2="438.06" y2="47.20"/>
<line x1="442.78" y1="25.20" x2="442.78" y2="47.20"/>
<line x1="447.50" y1="25.20" x2="447.50" y2="47.20"/>
<line x1="452.22" y1="25.20" x2="452.22" y2="47.20"/>
<line x1="456.94" y1="25.20" x2="456.94" y2="47.20"/>
<line x1="461.66" y1="25.20" x2="461.66" y2="47.20"/>
<line x1="466.38" y1="25.20" x2="466.38" y2="47.20"/>
<line x1="471.10" y1="25.20" x2="471.10" y2="47.20"/>
<line x1="475.82" y1="25.20" x2="475.82" y2="47.20"/>
<line x1="480.54" y1="25.20" x2="480.54" y2="47.20"/>
<line x1="200.20" y1="25.20" x2="304.04" y2="25.20"/>
<line x1="305.90" y1="25.20" x2="480.54" y2="25.20"/>
<line x1="200.20" y1="32.10" x2="304.04" y2="32.10"/>
<line x1="305.90" y1="32.10" x2="480.54" y2="32.10"/>
<line x1="200.20" y1="32.10" x2="304.04" y2="32.10"/>
<line x1="305.90" y1="32.10" x2="480.54" y2="32.10"/>
<line x1="200.20" y1="39.90" x2="304.04" y2="39.90"/>
<line x1="305.90" y1="39.90" x2="480.54" y2="39.90"/>
<line x1="200.20" y1="39.90" x2="304.04" y2="39.90"/>
<line x1="305.90" y1="39.90" x2="480.54" y2="39.90"/>
<line x1="200.20" y1="47.20" x2="304.04" y2="47.20"/>
<line x1="305.90" y1="47.20" x2="480.54" y2="47.20"/>
<line x1="200.20" y1="49.20" x2="200.20" y2="99.90"/>
<line x1="204.92" y1="49.20" x2="204.92" y2="99.90"/>
<line x1="209.64" y1="49.20" x2="209.64" y2="99.90"/>
<line x1="214.36" y1="49.20" x2="214.36" y2="99.90"/>
<line x1="219.08" y1="49.20" x2="219.08" y2="99.90"/>
<line x1="223.80" y1="49.20" x2="223.80" y2="99.90"/>
<line x1="228.52" y1="49.20" x2="228.52" y2="99.90"/>
<line x1="233.24" y1="49.20" x2="233.24" y2="99.90"/>
<line x1="237.96" y1="49.20" x2="237.96" y2="99.90"/>
<line x1="242.68" y1="49.20" x2="242.68" y2="99.90"/>
<line x1="247.40" y1="49.20" x2="247.40" y2="99.90"/>
<line x1="252.12" y1="49.20" x2="252.12" y2="99.90"/>
<line x1="256.84" y1="49.20" x2="256.84" y2="99.90"/>
<line x1="261.56" y1="49.20" x2="261.56" y2="99.90"/>
<line x1="266.28" y1="49.20" x2="266.28" y2="99.90"/>
<line x1="271.00" y1="49.20" x2="271.00" y2="99.90"/>
<line x1="275.72" y1="49.20" x2="275.72" y2="99.90"/>
<line x1="280.44" y1="49.20" x2="280.44" y2="99.90"/>
<line x1="285.16" y1="49.20" x2="285.16" y2="99.90"/>
<line x1="289.88" y1="49.20" x2="289.88" y2="99.90"/>
<line x1="294.60" y1="49.20" x2="294.60" y2="99.90"/>
<line x1="299.32" y1="49.20" x2="299.32" y2="99.90"/>
<line x1="304.04" y1="49.20" x2="304.04" y2="99.90"/>
<line x1="305.90" y1="49.20" x2="305.90" y2="99.90"/>
<line x1="310.62" y1="49.20" x2="310.62" y2="99.90"/>
<line x1="315.34" y1="49.20" x2="315.34" y2="99.90"/>
<line x1="320.06" y1="49.20" x2="320.06" y2="99.90"/>
<line x1="324.78" y1="49.20" x2="324.78" y2="99.90"/>
<line x1="329.50" y1="49.20" x2="329.50" y2="99.90"/>
<line x1="334.22" y1="49.20" x2="334.22" y2="99.90"/>
<line x1="338.94" y1="49.20" x2="338.94" y2="99.90"/>
<line x1="343.66" y1="49.20" x2="343.66" y2="99.90"/>
<line x1="348.38" y1="49.20" x2="348.38" y2="99.90"/>
<line x1="353.10" y1="49.20" x2="353.10" y2="99.90"/>
<line x1="357.82" y1="49.20" x2="357.82" y2="99.90"/>
<line x1="362.54" y1="49.20" x2="362.54" y2="99.90"/>
<line x1="367.26" y1="49.20" x2="367.26" y2="99.90"/>
<line x1="371.98" y1="49.20" x2="371.98" y2="99.90"/>
<line x1="376.70" y1="49.20" x2="376.70" y2="99.90"/>
<line x1="381.42" y1="49.20" x2="381.42" y2="99.90"/>
<line x1="386.14" y1="49.20" x2="386.14" y2="99.90"/>
<line x1="390.86" y1="49.20" x2="390.86" y2="99.90"/>
<line x1="395.58" y1="49.20" x2="395.58" y2="99.90"/>
<line x1="400.30" y1="49.20" x2="400.30" y2="99.90"/>
<line x1="405.02" y1="49.20" x2="405.02" y2="99.90"/>
<line x1="409.74" y1="49.20" x2="409.74" y2="99.90"/>
<line x1="414.46" y1="49.20" x2="414.46" y2="99.90"/>
<line x1="419.18" y1="49.20" x2="419.18" y2="99.90"/>
<line x1="423.90" y1="49.20" x2="423.90" y2="99.90"/>
<line x1="428.62" y1="49.20" x2="428.62" y2="99.90"/>
<line x1="433.34" y1="49.20" x2="433.34" y2="99.90"/>
<line x1="438.06" y1="49.20" x2="438.06" y2="99.90"/>
<line x1="442.78" y1="49.20" x2="442.78" y2="99.90"/>
<line x1="447.50" y1="49.20" x2="447.50" y2="99.90"/>
<line x1="452.22" y1="49.20" x2="452.22" y2="99.90"/>
<line x1="456.94" y1="49.20" x2="456.94" y2="99.90"/>
<line x1="461.66" y1="49.20" x2="461.66" y2="99.90"/>
<line x1="466.38" y1="49.20" x2="466.38" y2="99.90"/>
<line x1="471.10" y1="49.20" x2="471.10" y2="99.90"/>
<line x1="475.82" y1="49.20" x2="475.82" y2="99.90"/>
<line x1="480.54" y1="49.20" x2="480.54" y2="99.90"/>
<line x1="200.20" y1="49.20" x2="304.04" y2="49.20"/>
<line x1="305.90" y1="49.20" x2="480.54" y2="49.20"/>
<line x1="200.20" y1="63.50" x2="304.04" y2="63.50"/>
<line x1="305.90" y1="63.50" x2="480.54" y2="63.50"/>
<line x1="200.20" y1="63.50" x2="304.04" y2="63.50"/>
<line x1="305.90" y1="63.50" x2="480.54" y2="63.50"/>
<line x1="200.20" y1="77.40" x2="304.04" y2="77.40"/>
<line x1="305.90" y1="77.40" x2="480.54" y2="77.40"/>
<line x1="200.20" y1="77.40" x2="304.04" y2="77.40"/>
<line x1="305.90" y1="77.40" x2="480.54" y2="77.40"/>
<line x1="200.20" y1="91.30" x2="304.04" y2="91.30"/>
<line x1="305.90" y1="91.30" x2="480.54" y2="91.30"/>
<line x1="200.20" y1="91.30" x2="304.04" y2="91.30"/>
<line x1="305.90" y1="91.30" x2="480.54" y2="91.30"/>
<line x1="200.20" y1="99.90" x2="304.04" y2="99.90"/>
<line x1="305.90" y1="99.90" x2="480.54" y2="99.90"/>
<line x1="200.20" y1="107.00" x2="200.20" y2="143.80"/>
<line x1="204.92" y1="107.00" x2="204.92" y2="143.80"/>
<line x1="209.64" y1="107.00" x2="209.64" y2="143.80"/>
<line x1="214.36" y1="107.00" x2="214.36" y2="143.80"/>
<line x1="219.08" y1="107.00" x2="219.08" y2="143.80"/>
<line x1="223.80" y1="107.00" x2="223.80" y2="143.80"/>
<line x1="228.52" y1="107.00" x2="228.52" y2="143.80"/>
<line x1="233.24" y1="107.00" x2="233.24" y2="143.80"/>
<line x1="237.96" y1="107.00" x2="237.96" y2="143.80"/>
<line x1="242.68" y1="107.00" x2="242.68" y2="143.80"/>
<line x1="247.40" y1="107.00" x2="247.40" y2="143.80"/>
<line x1="252.12" y1="107.00" x2="252.12" y2="143.80"/>
<line x1="256.84" y1="107.00" x2="256.84" y2="143.80"/>
<line x1="261.56" y1="107.00" x2="261.56" y2="143.80"/>
<line x1="266.28" y1="107.00" x2="266.28" y2="143.80"/>
<line x1="271.00" y1="107.00" x2="271.00" y2="143.80"/>
<line x1="275.72" y1="107.00" x2="275.72" y2="143.80"/>
<line x1="280.44" y1="107.00" x2="280.44" y2="143.80"/>
<line x1="285.16" y1="107.00" x2="285.16" y2="143.80"/>
<line x1="289.88" y1="107.00" x2="289.88" y2="143.80"/>
<line x1="294.60" y1="107.00" x2="294.60" y2="143.80"/>
<line x1="299.32" y1="107.00" x2="299.32" y2="143.80"/>
<line x1="304.04" y1="107.00" x2="304.04" y2="143.80"/>
<line x1="305.90" y1="107.00" x2="305.90" y2="143.80"/>
<line x1="310.62" y1="107.00" x2="310.62" y2="143.80"/>
<line x1="315.34" y1="107.00" x2="315.34" y2="143.80"/>
<line x1="320.06" y1="107.00" x2="320.06" y2="143.80"/>
<line x1="324.78" y1="107.00" x2="324.78" y2="143.80"/>
<line x1="329.50" y1="107.00" x2="329.50" y2="143.80"/>
<line x1="334.22" y1="107.00" x2="334.22" y2="143.80"/>
<line x1="338.94" y1="107.00" x2="338.94" y2="143.80"/>
<line x1="343.66" y1="107.00" x2="343.66" y2="143.80"/>
<line x1="348.38" y1="107.00" x2="348.38" y2="143.80"/>
<line x1="353.10" y1="107.00" x2="353.10" y2="143.80"/>
<line x1="357.82" y1="107.00" x2="357.82" y2="143.80"/>
<line x1="362.54" y1="107.00" x2="362.54" y2="143.80"/>
<line x1="367.26" y1="107.00" x2="367.26" y2="143.80"/>
<line x1="371.98" y1="107.00" x2="371.98" y2="143.80"/>
<line x1="376.70" y1="107.00" x2="376.70" y2="143.80"/>
<line x1="381.42" y1="107.00" x2="381.42" y2="143.80"/>
<line x1="386.14" y1="107.00" x2="386.14" y2="143.80"/>
<line x1="390.86" y1="107.00" x2="390.86" y2="143.80"/>
<line x1="395.58" y1="107.00" x2="395.58" y2="143.80"/>
<line x1="400.30" y1="107.00" x2="400.30" y2="143.80"/>
<line x1="405.02" y1="107.00" x2="405.02" y2="143.80"/>
<line x1="409.74" y1="107.00" x2="409.74" y2="143.80"/>
<line x1="414.46" y1="107.00" x2="414.46" y2="143.80"/>
<line x1="419.18" y1="107.00" x2="419.18" y2="143.80"/>
<line x1="423.90" y1="107.00" x2="423.90" y2="143.80"/>
<line x1="428.62" y1="107.00" x2="428.62" y2="143.80"/>
<line x1="433.34" y1="107.00" x2="433.34" y2="143.80"/>
<line x1="438.06" y1="107.00" x2="438.06" y2="143.80"/>
<line x1="442.78" y1="107.00" x2="442.78" y2="143.80"/>
<line x1="447.50" y1="107.00" x2="447.50" y2="143.80"/>
<line x1="452.22" y1="107.00" x2="452.22" y2="143.80"/>
<line x1="456.94" y1="107.00" x2="456.94" y2="143.80"/>
<line x1="461.66" y1="107.00" x2="461.66" y2="143.80"/>
<line x1="466.38" y1="107.00" x2="466.38" y2="143.80"/>
<line x1="471.10" y1="107.00" x2="471.10" y2="143.80"/>
<line x1="475.82" y1="107.00" x2="475.82" y2="143.80"/>
<line x1="480.54" y1="107.00" x2="480.54" y2="143.80"/>
<line x1="200.20" y1="107.00" x2="304.04" y2="107.00"/>
<line x1="305.90" y1="107.00" x2="480.54" y2="107.00"/>
<line x1="200.20" y1="121.00" x2="304.04" y2="121.00"/>
<line x1="305.90" y1="121.00" x2="480.54" y2="121.00"/>
<line x1="200.20" y1="121.00" x2="304.04" y2="121.00"/>
<line x1="305.90" y1="121.00" x2="480.54" y2="121.00"/>
<line x1="200.20" y1="135.30" x2="304.04" y2="135.30"/>
<line x1="305.90" y1="135.30" x2="480.54" y2="135.30"/>
<line x1="200.20" y1="135.30" x2="304.04" y2="135.30"/>
<line x1="305.90" y1="135.30" x2="480.54" y2="135.30"/>
<line x1="200.20" y1="143.80" x2="304.04" y2="143.80"/>
<line x1="305.90" y1="143.80" x2="480.54" y2="143.80"/>
</g>
<text x="482.90" y="32.00" font-size="8.5">RCB</text>
<text x="482.90" y="39.20" font-size="8.5">Race</text>
<text x="482.90" y="46.60" font-size="8.5">Mutation</text>
<text x="482.90" y="59.20" font-size="8.5">DNA</text>
<text x="482.90" y="73.30" font-size="8.5">RNA</text>
<text x="482.90" y="87.60" font-size="8.5">TMT</text>
<text x="482.90" y="99.10" font-size="8.5">TC &gt;45%</text>
<text x="482.90" y="116.00" font-size="8.5">RNA</text>
<text x="482.90" y="130.50" font-size="8.5">TMT</text>
<text x="482.90" y="142.80" font-size="8.5">TC &gt;45%</text>
<text x="252.00" y="22.40" font-size="8.5" text-anchor="middle">pCR (<tspan font-style="italic">N</tspan> = 22)</text>
<text x="393.20" y="22.40" font-size="8.5" text-anchor="middle">Non-pCR (<tspan font-style="italic">N</tspan> = 37)</text>
<path d="M198.6,49.8 H196.8 V99.4 H198.6" fill="none" stroke="#858a8a" stroke-width="0.8"/>
<path d="M198.6,107.2 H196.8 V143.5 H198.6" fill="none" stroke="#858a8a" stroke-width="0.8"/>
<text x="193.50" y="74.60" font-size="8.5" text-anchor="middle" transform="rotate(-90 193.5 74.6)">Baseline</text>
<text x="193.50" y="126.90" font-size="8.5" text-anchor="middle" transform="rotate(-90 193.5 126.9)">On-treatment</text>
<text x="199.80" y="155.60" font-size="8.5">RCB</text>
<rect x="199.90" y="160.20" width="6.80" height="6.80" fill="#99cb5b"/>
<text x="209.50" y="166.20" font-size="8.5">0</text>
<rect x="199.90" y="167.65" width="6.80" height="6.80" fill="#f27a3a"/>
<text x="209.50" y="173.65" font-size="8.5">I</text>
<rect x="199.90" y="175.10" width="6.80" height="6.80" fill="#22b4b0"/>
<text x="209.50" y="181.10" font-size="8.5">II</text>
<rect x="199.90" y="182.55" width="6.80" height="6.80" fill="#6a31a0"/>
<text x="209.50" y="188.55" font-size="8.5">III</text>
<text x="225.40" y="155.60" font-size="8.5">Pathogenic mutation</text>
<rect x="225.80" y="160.20" width="6.80" height="6.80" fill="#a3161e"/>
<text x="236.30" y="166.20" font-size="8.5" font-style="italic">BRCA1</text>
<rect x="225.80" y="167.65" width="6.80" height="6.80" fill="#ee8a88"/>
<text x="236.30" y="173.65" font-size="8.5" font-style="italic">BRCA2</text>
<rect x="225.80" y="175.10" width="6.80" height="6.80" fill="#f9d9d5"/>
<text x="236.30" y="181.10" font-size="8.5" font-style="italic">PALB2</text>
<text x="308.80" y="155.60" font-size="8.5">Data availability</text>
<rect x="309.30" y="160.20" width="6.80" height="6.80" fill="#ea5ca1"/>
<text x="318.60" y="166.20" font-size="8.5">Yes</text>
<rect x="309.30" y="167.65" width="6.80" height="6.80" fill="#676b6a"/>
<text x="318.60" y="173.65" font-size="8.5">No</text>
<text x="374.80" y="155.60" font-size="8.5">Race</text>
<rect x="375.40" y="160.20" width="6.80" height="6.80" fill="#f7e51f"/>
<text x="385.00" y="166.20" font-size="8.5">African American</text>
<rect x="375.40" y="167.65" width="6.80" height="6.80" fill="#37b67a"/>
<text x="385.00" y="173.65" font-size="8.5">Asian</text>
<rect x="375.40" y="175.10" width="6.80" height="6.80" fill="#2f6a92"/>
<text x="385.00" y="181.10" font-size="8.5">Caucasian</text>
<rect x="375.40" y="182.55" width="6.80" height="6.80" fill="#44105a"/>
<text x="385.00" y="188.55" font-size="8.5">Other</text>
<text x="456.20" y="155.60" font-size="8.5">TC &gt;45%</text>
<rect x="457.90" y="159.40" width="6.40" height="6.40" fill="#1d1d1d" stroke="#555" stroke-width="0.6"/>
<text x="467.40" y="165.30" font-size="8.5">Yes</text>
<rect x="457.90" y="166.80" width="6.40" height="6.40" fill="#ffffff" stroke="#555" stroke-width="0.6"/>
<text x="467.40" y="172.70" font-size="8.5">No</text>
<text x="1.60" y="276.30" font-size="10" font-weight="bold" style="stroke-width:0.15px">C</text>
<defs>
<clipPath id="clS"><circle cx="86.6" cy="367.5" r="83.6"/></clipPath>
<clipPath id="clP"><circle cx="60.0" cy="341.0" r="54.5"/></clipPath>
</defs>
<circle cx="86.6" cy="367.5" r="83.6" fill="#e5d6ae"/>
<circle cx="79.3" cy="352.7" r="75.9" fill="#d8e9d6"/>
<circle cx="79.3" cy="352.7" r="75.9" fill="#cbd197" clip-path="url(#clS)"/>
<circle cx="60.0" cy="341.0" r="54.5" fill="#a9d3e1"/>
<circle cx="60.0" cy="341.0" r="54.5" fill="#a1cbc0" clip-path="url(#clS)"/>
<circle cx="43.0" cy="361.5" r="36.0" fill="#cda6ad"/>
<circle cx="43.0" cy="361.5" r="36.0" fill="#a8a5c0" clip-path="url(#clP)"/>
<text x="79.60" y="285.60" font-size="8.7">1,745</text>
<text x="39.80" y="300.50" font-size="8.7">177</text>
<text x="41.50" y="318.50" font-size="8.7">Protein (11,063)</text>
<text x="83.00" y="336.50" font-size="8.7">6,091</text>
<text x="2.80" y="352.40" font-size="8.7">Phosphoprotein</text>
<text x="1.70" y="363.50" font-size="8.7">[5,041 (26,919 sites)]</text>
<text x="37.40" y="373.80" font-size="8.7">4,435</text>
<text x="13.20" y="378.00" font-size="8.7">415</text>
<text x="117.70" y="384.20" font-size="8.7">7,889</text>
<text x="65.80" y="405.70" font-size="8.7">mRNA (20,861)</text>
<text x="129.80" y="419.50" font-size="8.7">6,254</text>
<text x="65.80" y="436.30" font-size="8.7">SCNA (25,242)</text>
<text x="212.80" y="224.30" font-size="10" font-weight="bold" style="stroke-width:0.15px">D</text>
<text x="374.70" y="221.70" font-size="8.6" text-anchor="middle">Hallmark50 pathway enrichment:</text>
<text x="374.70" y="232.00" font-size="8.6" text-anchor="middle">On-treatment vs. baseline</text>
<rect x="258.6" y="236.8" width="231.89999999999998" height="215.59999999999997" fill="none" stroke="#555" stroke-width="0.9"/>
<line x1="253.80" y1="264.50" x2="258.60" y2="264.50" stroke="#555" stroke-width="0.9" />
<text x="250.20" y="264.50" font-size="8.5" text-anchor="middle" transform="rotate(-90 250.2 264.5)">4</text>
<line x1="253.80" y1="304.50" x2="258.60" y2="304.50" stroke="#555" stroke-width="0.9" />
<text x="250.20" y="304.50" font-size="8.5" text-anchor="middle" transform="rotate(-90 250.2 304.5)">2</text>
<line x1="253.80" y1="344.50" x2="258.60" y2="344.50" stroke="#555" stroke-width="0.9" />
<text x="250.20" y="344.50" font-size="8.5" text-anchor="middle" transform="rotate(-90 250.2 344.5)">0</text>
<line x1="253.80" y1="384.50" x2="258.60" y2="384.50" stroke="#555" stroke-width="0.9" />
<text x="250.20" y="384.50" font-size="8.5" text-anchor="middle" transform="rotate(-90 250.2 384.5)">−2</text>
<line x1="253.80" y1="424.50" x2="258.60" y2="424.50" stroke="#555" stroke-width="0.9" />
<text x="250.20" y="424.50" font-size="8.5" text-anchor="middle" transform="rotate(-90 250.2 424.5)">−4</text>
<line x1="286.50" y1="452.40" x2="286.50" y2="457.30" stroke="#555" stroke-width="0.9" />
<text x="286.50" y="467.30" font-size="8.5" text-anchor="middle">−4</text>
<line x1="326.50" y1="452.40" x2="326.50" y2="457.30" stroke="#555" stroke-width="0.9" />
<text x="326.50" y="467.30" font-size="8.5" text-anchor="middle">−2</text>
<line x1="366.50" y1="452.40" x2="366.50" y2="457.30" stroke="#555" stroke-width="0.9" />
<text x="366.50" y="467.30" font-size="8.5" text-anchor="middle">0</text>
<line x1="406.50" y1="452.40" x2="406.50" y2="457.30" stroke="#555" stroke-width="0.9" />
<text x="406.50" y="467.30" font-size="8.5" text-anchor="middle">2</text>
<line x1="446.50" y1="452.40" x2="446.50" y2="457.30" stroke="#555" stroke-width="0.9" />
<text x="446.50" y="467.30" font-size="8.5" text-anchor="middle">4</text>
<text x="375.00" y="478.80" font-size="8.4" text-anchor="middle">Signed −log<tspan font-size="5.9" dy="1.8">10</tspan><tspan dy="-1.8"> (FDR) from</tspan></text>
<text x="373.40" y="488.30" font-size="8.4" text-anchor="middle">GSEA based on differential RNA</text>
<text x="221.80" y="344.70" font-size="8.4" text-anchor="middle" transform="rotate(-90 221.8 344.7)">Signed −log<tspan font-size="5.9" dy="1.8">10</tspan><tspan dy="-1.8"> (FDR) from</tspan></text>
<text x="232.80" y="345.30" font-size="8.4" text-anchor="middle" transform="rotate(-90 232.8 345.3)">GSEA based on differential proteins</text>
<line x1="465.90" y1="244.60" x2="450.30" y2="248.50" stroke="#333" stroke-width="0.7" />
<line x1="465.90" y1="244.60" x2="467.00" y2="254.50" stroke="#333" stroke-width="0.7" />
<line x1="266.80" y1="382.70" x2="283.40" y2="387.30" stroke="#333" stroke-width="0.7" />
<line x1="266.80" y1="388.50" x2="272.30" y2="397.70" stroke="#333" stroke-width="0.7" />
<circle cx="369.60" cy="321.20" r="2.0" fill="#fff" stroke="#444" stroke-width="0.6"/>
<circle cx="365.80" cy="328.50" r="2.0" fill="#fff" stroke="#444" stroke-width="0.6"/>
<circle cx="388.10" cy="330.40" r="2.0" fill="#fff" stroke="#444" stroke-width="0.6"/>
<circle cx="368.10" cy="337.30" r="2.0" fill="#fff" stroke="#444" stroke-width="0.6"/>
<circle cx="361.50" cy="343.90" r="2.0" fill="#fff" stroke="#444" stroke-width="0.6"/>
<circle cx="366.50" cy="343.90" r="2.0" fill="#fff" stroke="#444" stroke-width="0.6"/>
<circle cx="372.70" cy="343.00" r="2.0" fill="#fff" stroke="#444" stroke-width="0.6"/>
<circle cx="366.50" cy="346.50" r="2.0" fill="#fff" stroke="#444" stroke-width="0.6"/>
<circle cx="373.50" cy="346.50" r="2.0" fill="#fff" stroke="#444" stroke-width="0.6"/>
<circle cx="376.50" cy="346.80" r="2.0" fill="#fff" stroke="#444" stroke-width="0.6"/>
<circle cx="378.80" cy="347.30" r="2.0" fill="#fff" stroke="#444" stroke-width="0.6"/>
<circle cx="366.50" cy="350.40" r="2.0" fill="#fff" stroke="#444" stroke-width="0.6"/>
<circle cx="384.20" cy="349.20" r="2.0" fill="#fff" stroke="#444" stroke-width="0.6"/>
<circle cx="388.40" cy="343.90" r="2.0" fill="#fff" stroke="#444" stroke-width="0.6"/>
<circle cx="391.60" cy="346.80" r="2.0" fill="#fff" stroke="#444" stroke-width="0.6"/>
<circle cx="354.70" cy="348.50" r="2.0" fill="#fff" stroke="#444" stroke-width="0.6"/>
<circle cx="340.40" cy="350.80" r="2.0" fill="#fff" stroke="#444" stroke-width="0.6"/>
<circle cx="356.30" cy="367.10" r="2.0" fill="#fff" stroke="#444" stroke-width="0.6"/>
<circle cx="356.80" cy="370.70" r="2.0" fill="#fff" stroke="#444" stroke-width="0.6"/>
<circle cx="377.30" cy="366.90" r="2.0" fill="#fff" stroke="#444" stroke-width="0.6"/>
<circle cx="366.30" cy="244.20" r="2.0" fill="#d9d643" stroke="#5c5a18" stroke-width="0.7"/>
<circle cx="430.60" cy="244.90" r="2.0" fill="#d9d643" stroke="#5c5a18" stroke-width="0.7"/>
<circle cx="366.30" cy="274.40" r="2.0" fill="#d9d643" stroke="#5c5a18" stroke-width="0.7"/>
<circle cx="357.20" cy="294.50" r="2.0" fill="#d9d643" stroke="#5c5a18" stroke-width="0.7"/>
<circle cx="370.40" cy="298.50" r="2.0" fill="#d9d643" stroke="#5c5a18" stroke-width="0.7"/>
<circle cx="383.90" cy="305.40" r="2.0" fill="#d9d643" stroke="#5c5a18" stroke-width="0.7"/>
<circle cx="366.50" cy="315.00" r="2.0" fill="#d9d643" stroke="#5c5a18" stroke-width="0.7"/>
<circle cx="383.40" cy="313.20" r="2.0" fill="#d9d643" stroke="#5c5a18" stroke-width="0.7"/>
<circle cx="465.90" cy="244.60" r="2.0" fill="#d4903e" stroke="#4c3212" stroke-width="0.7"/>
<circle cx="465.90" cy="269.50" r="2.0" fill="#d4903e" stroke="#4c3212" stroke-width="0.7"/>
<circle cx="393.20" cy="296.90" r="2.0" fill="#d4903e" stroke="#4c3212" stroke-width="0.7"/>
<circle cx="398.80" cy="330.70" r="2.0" fill="#9d1d33" stroke="#4a0d18" stroke-width="0.6"/>
<circle cx="393.90" cy="343.50" r="2.0" fill="#9d1d33" stroke="#4a0d18" stroke-width="0.6"/>
<circle cx="406.50" cy="343.80" r="2.0" fill="#9d1d33" stroke="#4a0d18" stroke-width="0.6"/>
<circle cx="399.30" cy="354.70" r="2.0" fill="#9d1d33" stroke="#4a0d18" stroke-width="0.6"/>
<circle cx="266.80" cy="382.70" r="2.0" fill="#111" stroke="#000" stroke-width="0.6"/>
<circle cx="266.80" cy="388.50" r="2.0" fill="#111" stroke="#000" stroke-width="0.6"/>
<circle cx="266.80" cy="398.40" r="2.0" fill="#111" stroke="#000" stroke-width="0.6"/>
<circle cx="344.70" cy="379.40" r="2.0" fill="#2c3b7c" stroke="#151d40" stroke-width="0.6"/>
<circle cx="356.10" cy="382.60" r="2.0" fill="#2c3b7c" stroke="#151d40" stroke-width="0.6"/>
<circle cx="383.10" cy="380.30" r="2.0" fill="#2c3b7c" stroke="#151d40" stroke-width="0.6"/>
<circle cx="366.20" cy="396.50" r="2.0" fill="#2c3b7c" stroke="#151d40" stroke-width="0.6"/>
<circle cx="366.80" cy="445.20" r="2.0" fill="#2c3b7c" stroke="#151d40" stroke-width="0.6"/>
<circle cx="369.40" cy="445.20" r="2.0" fill="#2c3b7c" stroke="#151d40" stroke-width="0.6"/>
<text x="304.80" y="246.00" font-size="6.6" style="fill:#4d66b0;stroke:#4d66b0;stroke-width:0.04px">MYC TARGETS V1</text>
<text x="370.40" y="242.40" font-size="6.6" style="fill:#4d66b0;stroke:#4d66b0;stroke-width:0.04px">MYC TARGETS V2</text>
<text x="415.80" y="255.20" font-size="6.6" style="fill:#4d66b0;stroke:#4d66b0;stroke-width:0.04px">E2F TARGETS</text>
<text x="421.00" y="262.80" font-size="6.6" style="fill:#4d66b0;stroke:#4d66b0;stroke-width:0.04px">G2M CHECKPOINT</text>
<text x="421.80" y="278.60" font-size="6.6" style="fill:#4d66b0;stroke:#4d66b0;stroke-width:0.04px">MITOTIC SPINDLE</text>
<text x="320.20" y="269.20" font-size="6.6" style="fill:#e2222c;stroke:#e2222c;stroke-width:0.03px" font-weight="bold" font-style="italic">FATTY ACID METABOLISM</text>
<text x="283.80" y="291.10" font-size="6.6" style="fill:#e2222c;stroke:#e2222c;stroke-width:0.03px" font-weight="bold" font-style="italic">OXIDATIVE PHOSPHORYLATION</text>
<text x="391.20" y="293.50" font-size="6.6" style="stroke-width:0.13px">MTORC1 SIGNALING</text>
<text x="382.00" y="303.40" font-size="6.6" style="stroke-width:0.13px">UNFOLDED PROTEIN RESPONSE</text>
<text x="291.00" y="306.10" font-size="6.6" style="stroke-width:0.13px">PI3K AKT MTOR SIGNALING</text>
<text x="387.30" y="315.80" font-size="6.6" style="fill:#e2222c;stroke:#e2222c;stroke-width:0.03px" font-weight="bold" font-style="italic">ADIPOGENESIS</text>
<text x="402.80" y="331.40" font-size="6.6" style="fill:#d4424a;stroke:#d4424a;stroke-width:0.04px">GLYCOLYSIS</text>
<text x="410.40" y="345.60" font-size="6.6" style="stroke-width:0.13px">APICAL JUNCTION</text>
<text x="403.70" y="356.30" font-size="6.6" style="stroke-width:0.13px">NOTCH SIGNALING</text>
<text x="262.20" y="375.80" font-size="6.6" style="fill:#3f9150;stroke:#3f9150;stroke-width:0.04px">INFLAMMATORY RESPONSE</text>
<text x="384.20" y="377.30" font-size="6.6" style="stroke-width:0.13px">MYOGENESIS</text>
<text x="360.00" y="387.00" font-size="6.6" style="stroke-width:0.13px">KRAS SIGNALING UP</text>
<text x="273.00" y="393.10" font-size="6.6" style="fill:#3f9150;stroke:#3f9150;stroke-width:0.04px">INTERFERON ALPHA RESPONSE</text>
<text x="369.20" y="398.40" font-size="6.6" style="stroke-width:0.13px">ANGIOGENESIS</text>
<text x="274.20" y="400.00" font-size="6.6" style="fill:#3f9150;stroke:#3f9150;stroke-width:0.04px">ALLOGRAFT REJECTION</text>
<text x="263.80" y="407.60" font-size="6.6" style="fill:#3f9150;stroke:#3f9150;stroke-width:0.04px">INTERFERON GAMMA RESPONSE</text>
<text x="356.70" y="442.10" font-size="6.6" style="stroke-width:0.13px">EPITHELIAL MESENCHYMAL TRANSITION</text>
<text x="315.50" y="448.20" font-size="6.6" style="stroke-width:0.13px">COAGULATION</text>
<rect x="376.7" y="402.3" width="113.0" height="31.3" fill="#fff" stroke="#555" stroke-width="0.8"/>
<text x="379.10" y="408.80" font-size="6.5" font-weight="bold" style="stroke-width:0.15px">Up Down</text>
<circle cx="383.90" cy="414.30" r="1.8" fill="#d4903e" stroke="#4c3212" stroke-width="0.6"/>
<circle cx="395.20" cy="414.30" r="1.8" fill="#111" stroke="#000" stroke-width="0.6"/>
<circle cx="383.90" cy="421.60" r="1.8" fill="#d9d643" stroke="#5c5a18" stroke-width="0.6"/>
<circle cx="395.20" cy="421.60" r="1.8" fill="#2c3b7c" stroke="#151d40" stroke-width="0.6"/>
<circle cx="383.90" cy="428.80" r="1.8" fill="#9d1d33" stroke="#4a0d18" stroke-width="0.6"/>
<text x="399.30" y="416.50" font-size="6.67" style="stroke-width:0.13px">FDR &lt;0.05 for RNA + protein</text>
<text x="399.30" y="423.70" font-size="6.67" style="stroke-width:0.13px">FDR &lt;0.05 for protein only</text>
<text x="399.30" y="430.90" font-size="6.67" style="stroke-width:0.13px">FDR &lt;0.05 for RNA only</text>
<text x="91.60" y="509.90" font-size="10" font-weight="bold" style="stroke-width:0.15px">E</text>
<text x="278.50" y="506.80" font-size="8.4" text-anchor="middle">Hallmark50 pathway enrichment:</text>
<text x="280.70" y="516.30" font-size="8.4" text-anchor="middle">Non-pCR vs. pCR</text>
<rect x="159.6" y="524.3" width="237.20000000000002" height="237.5" fill="none" stroke="#555" stroke-width="0.9"/>
<line x1="154.50" y1="545.00" x2="159.60" y2="545.00" stroke="#555" stroke-width="0.9" />
<text x="151.20" y="545.00" font-size="8.5" text-anchor="middle" transform="rotate(-90 151.2 545.0)">4</text>
<line x1="154.50" y1="594.00" x2="159.60" y2="594.00" stroke="#555" stroke-width="0.9" />
<text x="151.20" y="594.00" font-size="8.5" text-anchor="middle" transform="rotate(-90 151.2 594.0)">2</text>
<line x1="154.50" y1="643.00" x2="159.60" y2="643.00" stroke="#555" stroke-width="0.9" />
<text x="151.20" y="643.00" font-size="8.5" text-anchor="middle" transform="rotate(-90 151.2 643.0)">0</text>
<line x1="154.50" y1="692.00" x2="159.60" y2="692.00" stroke="#555" stroke-width="0.9" />
<text x="151.20" y="692.00" font-size="8.5" text-anchor="middle" transform="rotate(-90 151.2 692.0)">−2</text>
<line x1="154.50" y1="741.00" x2="159.60" y2="741.00" stroke="#555" stroke-width="0.9" />
<text x="151.20" y="741.00" font-size="8.5" text-anchor="middle" transform="rotate(-90 151.2 741.0)">−4</text>
<line x1="184.30" y1="761.80" x2="184.30" y2="766.30" stroke="#555" stroke-width="0.9" />
<text x="184.30" y="778.00" font-size="8.5" text-anchor="middle">−4</text>
<line x1="215.60" y1="761.80" x2="215.60" y2="766.30" stroke="#555" stroke-width="0.9" />
<text x="215.60" y="778.00" font-size="8.5" text-anchor="middle">−3</text>
<line x1="246.90" y1="761.80" x2="246.90" y2="766.30" stroke="#555" stroke-width="0.9" />
<text x="246.90" y="778.00" font-size="8.5" text-anchor="middle">−2</text>
<line x1="278.20" y1="761.80" x2="278.20" y2="766.30" stroke="#555" stroke-width="0.9" />
<text x="278.20" y="778.00" font-size="8.5" text-anchor="middle">−1</text>
<line x1="309.50" y1="761.80" x2="309.50" y2="766.30" stroke="#555" stroke-width="0.9" />
<text x="309.50" y="778.00" font-size="8.5" text-anchor="middle">0</text>
<line x1="340.80" y1="761.80" x2="340.80" y2="766.30" stroke="#555" stroke-width="0.9" />
<text x="340.80" y="778.00" font-size="8.5" text-anchor="middle">1</text>
<line x1="372.10" y1="761.80" x2="372.10" y2="766.30" stroke="#555" stroke-width="0.9" />
<text x="372.10" y="778.00" font-size="8.5" text-anchor="middle">2</text>
<text x="284.40" y="791.60" font-size="8.4" text-anchor="middle">Signed −log<tspan font-size="5.9" dy="1.8">10</tspan><tspan dy="-1.8"> (FDR) from</tspan></text>
<text x="286.00" y="801.50" font-size="8.4" text-anchor="middle">GSEA based on differential RNA</text>
<text x="120.60" y="645.70" font-size="8.4" text-anchor="middle" transform="rotate(-90 120.6 645.7)">Signed −log<tspan font-size="5.9" dy="1.8">10</tspan><tspan dy="-1.8"> (FDR) from</tspan></text>
<text x="131.00" y="645.80" font-size="8.4" text-anchor="middle" transform="rotate(-90 131.0 645.8)">GSEA based on differential proteins</text>
<line x1="407.30" y1="532.00" x2="407.30" y2="754.00" stroke="#333" stroke-width="0.9" />
<polygon points="403.3,535.5 411.3,535.5 407.3,524.4" fill="#111"/>
<polygon points="403.3,750.2 411.3,750.2 407.3,761.2" fill="#111"/>
<text x="425.20" y="562.20" font-size="8.5" text-anchor="middle" transform="rotate(-90 425.2 562.2)">High in non-pCR</text>
<text x="425.20" y="736.00" font-size="8.5" text-anchor="middle" transform="rotate(-90 425.2 736.0)">High in pCR</text>
<line x1="289.50" y1="535.00" x2="308.80" y2="543.80" stroke="#333" stroke-width="0.7" />
<line x1="184.00" y1="728.10" x2="219.40" y2="712.40" stroke="#333" stroke-width="0.7" />
<line x1="183.70" y1="740.70" x2="226.80" y2="731.90" stroke="#333" stroke-width="0.7" />
<line x1="183.70" y1="740.70" x2="226.80" y2="756.80" stroke="#333" stroke-width="0.7" />
<circle cx="251.20" cy="600.20" r="2.6" fill="#fff" stroke="#2a2a2a" stroke-width="0.8"/>
<circle cx="288.10" cy="597.30" r="2.6" fill="#fff" stroke="#2a2a2a" stroke-width="0.8"/>
<circle cx="309.60" cy="599.80" r="2.6" fill="#fff" stroke="#2a2a2a" stroke-width="0.8"/>
<circle cx="311.70" cy="604.60" r="2.6" fill="#fff" stroke="#2a2a2a" stroke-width="0.8"/>
<circle cx="307.70" cy="610.80" r="2.6" fill="#fff" stroke="#2a2a2a" stroke-width="0.8"/>
<circle cx="277.50" cy="617.10" r="2.6" fill="#fff" stroke="#2a2a2a" stroke-width="0.8"/>
<circle cx="292.30" cy="622.30" r="2.6" fill="#fff" stroke="#2a2a2a" stroke-width="0.8"/>
<circle cx="310.60" cy="620.40" r="2.6" fill="#fff" stroke="#2a2a2a" stroke-width="0.8"/>
<circle cx="257.90" cy="636.00" r="2.6" fill="#fff" stroke="#2a2a2a" stroke-width="0.8"/>
<circle cx="309.60" cy="636.30" r="2.6" fill="#fff" stroke="#2a2a2a" stroke-width="0.8"/>
<circle cx="256.50" cy="643.70" r="2.6" fill="#fff" stroke="#2a2a2a" stroke-width="0.8"/>
<circle cx="310.20" cy="640.20" r="2.6" fill="#fff" stroke="#2a2a2a" stroke-width="0.8"/>
<circle cx="310.20" cy="643.10" r="2.6" fill="#fff" stroke="#2a2a2a" stroke-width="0.8"/>
<circle cx="290.00" cy="651.20" r="2.6" fill="#fff" stroke="#2a2a2a" stroke-width="0.8"/>
<circle cx="295.80" cy="649.80" r="2.6" fill="#fff" stroke="#2a2a2a" stroke-width="0.8"/>
<circle cx="298.70" cy="649.40" r="2.6" fill="#fff" stroke="#2a2a2a" stroke-width="0.8"/>
<circle cx="307.70" cy="655.00" r="2.6" fill="#fff" stroke="#2a2a2a" stroke-width="0.8"/>
<circle cx="310.20" cy="643.30" r="2.6" fill="none" stroke="#111" stroke-width="1.3"/>
<circle cx="290.80" cy="545.00" r="2.6" fill="#e3a23b" stroke="#6a4a1a" stroke-width="0.7"/>
<circle cx="309.50" cy="545.00" r="2.6" fill="#e3a23b" stroke="#6a4a1a" stroke-width="0.7"/>
<circle cx="341.80" cy="545.00" r="2.6" fill="#e3a23b" stroke="#6a4a1a" stroke-width="0.7"/>
<circle cx="298.00" cy="556.80" r="2.6" fill="#e3a23b" stroke="#6a4a1a" stroke-width="0.7"/>
<circle cx="256.00" cy="589.80" r="2.6" fill="#e3a23b" stroke="#6a4a1a" stroke-width="0.7"/>
<circle cx="183.80" cy="635.40" r="2.6" fill="#8b4a8e" stroke="#3e1a40" stroke-width="0.7"/>
<circle cx="197.20" cy="634.20" r="2.6" fill="#8b4a8e" stroke="#3e1a40" stroke-width="0.7"/>
<circle cx="183.80" cy="642.30" r="2.6" fill="#8b4a8e" stroke="#3e1a40" stroke-width="0.7"/>
<circle cx="196.50" cy="643.50" r="2.6" fill="#8b4a8e" stroke="#3e1a40" stroke-width="0.7"/>
<circle cx="183.80" cy="649.70" r="2.6" fill="#8b4a8e" stroke="#3e1a40" stroke-width="0.7"/>
<circle cx="188.90" cy="654.50" r="2.6" fill="#8b4a8e" stroke="#3e1a40" stroke-width="0.7"/>
<circle cx="183.80" cy="659.20" r="2.6" fill="#8b4a8e" stroke="#3e1a40" stroke-width="0.7"/>
<circle cx="183.80" cy="665.40" r="2.6" fill="#8b4a8e" stroke="#3e1a40" stroke-width="0.7"/>
<circle cx="183.80" cy="667.70" r="2.6" fill="#8b4a8e" stroke="#3e1a40" stroke-width="0.7"/>
<circle cx="201.20" cy="666.50" r="2.6" fill="#8b4a8e" stroke="#3e1a40" stroke-width="0.7"/>
<circle cx="183.80" cy="680.80" r="2.6" fill="#8b4a8e" stroke="#3e1a40" stroke-width="0.7"/>
<circle cx="228.80" cy="629.20" r="2.6" fill="#8b4a8e" stroke="#3e1a40" stroke-width="0.7"/>
<circle cx="235.80" cy="629.60" r="2.6" fill="#8b4a8e" stroke="#3e1a40" stroke-width="0.7"/>
<circle cx="235.80" cy="623.50" r="2.6" fill="#8b4a8e" stroke="#3e1a40" stroke-width="0.7"/>
<circle cx="245.00" cy="643.50" r="2.6" fill="#8b4a8e" stroke="#3e1a40" stroke-width="0.7"/>
<circle cx="246.60" cy="645.00" r="2.6" fill="#8b4a8e" stroke="#3e1a40" stroke-width="0.7"/>
<circle cx="183.70" cy="720.10" r="2.6" fill="#62aede" stroke="#2a4a66" stroke-width="0.7"/>
<circle cx="184.00" cy="728.10" r="2.6" fill="#62aede" stroke="#2a4a66" stroke-width="0.7"/>
<circle cx="219.40" cy="725.90" r="2.6" fill="#62aede" stroke="#2a4a66" stroke-width="0.7"/>
<circle cx="183.70" cy="740.70" r="2.6" fill="#62aede" stroke="#2a4a66" stroke-width="0.7"/>
<text x="194.50" y="532.90" font-size="8.65">OXIDATIVE PHOSPHORYLATION</text>
<text x="344.30" y="533.00" font-size="8.65">PROTEIN</text>
<text x="344.30" y="541.50" font-size="8.65">SECRETION</text>
<text x="220.60" y="547.70" font-size="8.65">ADIPOGENESIS</text>
<text x="255.60" y="567.30" font-size="8.65">FATTY  ACID MET ABOLISM</text>
<text x="161.30" y="704.80" font-size="8.65">ALLOGRAFT</text>
<text x="161.30" y="714.80" font-size="8.65">REJECTION</text>
<text x="218.70" y="711.00" font-size="8.65">MYC TARGETS V1</text>
<text x="224.10" y="723.70" font-size="8.65">DNA REPAIR</text>
<text x="227.30" y="733.60" font-size="8.65">E2F TARGETS</text>
<text x="227.30" y="742.00" font-size="8.65">INTERFERON ALPHA RESPONSE</text>
<text x="227.30" y="750.30" font-size="8.65">G2M_CHECKPOINT</text>
<text x="227.30" y="758.00" font-size="8.65">INTERFERON GAMMA RESPONSE</text>
<rect x="295.3" y="671.3" width="96.9" height="58.2" fill="#fff" stroke="#555" stroke-width="0.8"/>
<circle cx="302.10" cy="679.80" r="2.3" fill="#fff" stroke="#444" stroke-width="0.7"/>
<text x="306.50" y="681.90" font-size="8.6">Not significant</text>
<circle cx="302.10" cy="693.10" r="2.3" fill="#8b4a8e" stroke="#3e1a40" stroke-width="0.7"/>
<text x="306.50" y="695.70" font-size="8.6">FDR &lt;0.01 in RNA</text>
<circle cx="302.10" cy="707.30" r="2.3" fill="#e3a23b" stroke="#6a4a1a" stroke-width="0.7"/>
<text x="306.50" y="710.00" font-size="8.6">FDR &lt;0.01 in protein</text>
<circle cx="302.10" cy="721.50" r="2.3" fill="#62aede" stroke="#2a4a66" stroke-width="0.7"/>
<text x="306.50" y="723.80" font-size="8.6">FDR &lt;0.01 in both</text>
<text x="91.00" y="826.90" font-size="10" font-weight="bold" style="stroke-width:0.15px">F</text>
<rect x="136.9" y="821.5" width="291.4" height="228.5" fill="none" stroke="#555" stroke-width="0.9"/>
<line x1="131.30" y1="1039.20" x2="136.90" y2="1039.20" stroke="#555" stroke-width="0.9" />
<text x="127.00" y="1039.20" font-size="8.5" text-anchor="middle" transform="rotate(-90 127.0 1039.20)">0.0</text>
<line x1="131.30" y1="991.95" x2="136.90" y2="991.95" stroke="#555" stroke-width="0.9" />
<text x="127.00" y="991.95" font-size="8.5" text-anchor="middle" transform="rotate(-90 127.0 991.95)">0.5</text>
<line x1="131.30" y1="944.70" x2="136.90" y2="944.70" stroke="#555" stroke-width="0.9" />
<text x="127.00" y="944.70" font-size="8.5" text-anchor="middle" transform="rotate(-90 127.0 944.70)">1.0</text>
<line x1="131.30" y1="897.45" x2="136.90" y2="897.45" stroke="#555" stroke-width="0.9" />
<text x="127.00" y="897.45" font-size="8.5" text-anchor="middle" transform="rotate(-90 127.0 897.45)">1.5</text>
<line x1="131.30" y1="850.20" x2="136.90" y2="850.20" stroke="#555" stroke-width="0.9" />
<text x="127.00" y="850.20" font-size="8.5" text-anchor="middle" transform="rotate(-90 127.0 850.20)">2.0</text>
<line x1="202.40" y1="1050.00" x2="202.40" y2="1055.20" stroke="#555" stroke-width="0.9" />
<text x="202.40" y="1067.00" font-size="8.5" text-anchor="middle">−8</text>
<line x1="230.70" y1="1050.00" x2="230.70" y2="1055.20" stroke="#555" stroke-width="0.9" />
<text x="230.70" y="1067.00" font-size="8.5" text-anchor="middle">−6</text>
<line x1="259.00" y1="1050.00" x2="259.00" y2="1055.20" stroke="#555" stroke-width="0.9" />
<text x="259.00" y="1067.00" font-size="8.5" text-anchor="middle">−4</text>
<line x1="287.30" y1="1050.00" x2="287.30" y2="1055.20" stroke="#555" stroke-width="0.9" />
<text x="287.30" y="1067.00" font-size="8.5" text-anchor="middle">−2</text>
<line x1="315.60" y1="1050.00" x2="315.60" y2="1055.20" stroke="#555" stroke-width="0.9" />
<text x="315.60" y="1067.00" font-size="8.5" text-anchor="middle">0</text>
<line x1="343.90" y1="1050.00" x2="343.90" y2="1055.20" stroke="#555" stroke-width="0.9" />
<text x="343.90" y="1067.00" font-size="8.5" text-anchor="middle">2</text>
<line x1="372.20" y1="1050.00" x2="372.20" y2="1055.20" stroke="#555" stroke-width="0.9" />
<text x="372.20" y="1067.00" font-size="8.5" text-anchor="middle">4</text>
<line x1="400.50" y1="1050.00" x2="400.50" y2="1055.20" stroke="#555" stroke-width="0.9" />
<text x="400.50" y="1067.00" font-size="8.5" text-anchor="middle">6</text>
<text x="283.50" y="1082.30" font-size="8.75" text-anchor="middle">PTM-SEA normalized enrichment score</text>
<text x="109.60" y="938.00" font-size="8.5" text-anchor="middle" transform="rotate(-90 109.6 938.0)">−Log<tspan font-size="5.9" dy="1.8">10</tspan><tspan dy="-1.8"> (FDR)</tspan></text>
<text x="141.20" y="832.70" font-size="8.5" style="fill:#2f4c9f;stroke:#2f4c9f;stroke-width:0.06px">High in pCR</text>
<text x="418.50" y="832.50" font-size="8.5" text-anchor="end" style="fill:#e0242b;stroke:#e0242b;stroke-width:0.06px">High in non-pCR</text>
<line x1="224.50" y1="852.50" x2="230.00" y2="862.80" stroke="#333" stroke-width="0.7" />
<line x1="241.50" y1="847.00" x2="235.50" y2="862.80" stroke="#333" stroke-width="0.7" />
<line x1="262.00" y1="836.00" x2="238.50" y2="862.80" stroke="#333" stroke-width="0.7" />
<line x1="257.00" y1="852.00" x2="253.00" y2="862.80" stroke="#333" stroke-width="0.7" />
<line x1="216.90" y1="868.80" x2="216.90" y2="873.00" stroke="#333" stroke-width="0.7" />
<circle cx="257.70" cy="917.50" r="3.5" fill="#fff" stroke="#151515" stroke-width="0.9"/>
<circle cx="266.30" cy="916.80" r="3.5" fill="#fff" stroke="#151515" stroke-width="0.9"/>
<circle cx="267.00" cy="918.50" r="3.5" fill="#fff" stroke="#151515" stroke-width="0.9"/>
<circle cx="269.20" cy="923.50" r="3.5" fill="#fff" stroke="#151515" stroke-width="0.9"/>
<circle cx="264.00" cy="935.20" r="3.5" fill="#fff" stroke="#151515" stroke-width="0.9"/>
<circle cx="272.50" cy="937.90" r="3.5" fill="#fff" stroke="#151515" stroke-width="0.9"/>
<circle cx="270.20" cy="944.80" r="3.5" fill="#fff" stroke="#151515" stroke-width="0.9"/>
<circle cx="270.60" cy="956.90" r="3.5" fill="#fff" stroke="#151515" stroke-width="0.9"/>
<circle cx="276.20" cy="954.00" r="3.5" fill="#fff" stroke="#151515" stroke-width="0.9"/>
<circle cx="276.70" cy="955.80" r="3.5" fill="#fff" stroke="#151515" stroke-width="0.9"/>
<circle cx="271.30" cy="959.20" r="3.5" fill="#fff" stroke="#151515" stroke-width="0.9"/>
<circle cx="275.90" cy="964.80" r="3.5" fill="#fff" stroke="#151515" stroke-width="0.9"/>
<circle cx="356.00" cy="917.30" r="3.5" fill="#fff" stroke="#151515" stroke-width="0.9"/>
<circle cx="358.90" cy="923.10" r="3.5" fill="#fff" stroke="#151515" stroke-width="0.9"/>
<circle cx="354.70" cy="930.20" r="3.5" fill="#fff" stroke="#151515" stroke-width="0.9"/>
<circle cx="352.70" cy="934.70" r="3.5" fill="#fff" stroke="#151515" stroke-width="0.9"/>
<circle cx="354.70" cy="936.00" r="3.5" fill="#fff" stroke="#151515" stroke-width="0.9"/>
<circle cx="353.40" cy="939.80" r="3.5" fill="#fff" stroke="#151515" stroke-width="0.9"/>
<circle cx="348.90" cy="943.70" r="3.5" fill="#fff" stroke="#151515" stroke-width="0.9"/>
<circle cx="349.50" cy="945.00" r="3.5" fill="#fff" stroke="#151515" stroke-width="0.9"/>
<circle cx="349.50" cy="959.80" r="3.5" fill="#fff" stroke="#151515" stroke-width="0.9"/>
<circle cx="346.30" cy="960.50" r="3.5" fill="#fff" stroke="#151515" stroke-width="0.9"/>
<circle cx="345.60" cy="966.90" r="3.5" fill="#fff" stroke="#151515" stroke-width="0.9"/>
<circle cx="346.90" cy="970.20" r="3.5" fill="#fff" stroke="#151515" stroke-width="0.9"/>
<circle cx="342.40" cy="970.80" r="3.5" fill="#fff" stroke="#151515" stroke-width="0.9"/>
<circle cx="343.10" cy="975.30" r="3.5" fill="#fff" stroke="#151515" stroke-width="0.9"/>
<circle cx="342.20" cy="979.60" r="3.5" fill="#fff" stroke="#151515" stroke-width="0.9"/>
<circle cx="277.70" cy="976.20" r="3.5" fill="#fff" stroke="#151515" stroke-width="0.9"/>
<circle cx="280.00" cy="980.20" r="3.5" fill="#fff" stroke="#151515" stroke-width="0.9"/>
<circle cx="282.90" cy="987.70" r="3.5" fill="#fff" stroke="#151515" stroke-width="0.9"/>
<circle cx="285.80" cy="986.50" r="3.5" fill="#fff" stroke="#151515" stroke-width="0.9"/>
<circle cx="282.30" cy="991.70" r="3.5" fill="#fff" stroke="#151515" stroke-width="0.9"/>
<circle cx="285.80" cy="994.00" r="3.5" fill="#fff" stroke="#151515" stroke-width="0.9"/>
<circle cx="286.30" cy="998.70" r="3.5" fill="#fff" stroke="#151515" stroke-width="0.9"/>
<circle cx="289.80" cy="1002.70" r="3.5" fill="#fff" stroke="#151515" stroke-width="0.9"/>
<circle cx="289.80" cy="1007.90" r="3.5" fill="#fff" stroke="#151515" stroke-width="0.9"/>
<circle cx="293.30" cy="1012.50" r="3.5" fill="#fff" stroke="#151515" stroke-width="0.9"/>
<circle cx="295.60" cy="1017.70" r="3.5" fill="#fff" stroke="#151515" stroke-width="0.9"/>
<circle cx="299.00" cy="1023.50" r="3.5" fill="#fff" stroke="#151515" stroke-width="0.9"/>
<circle cx="301.90" cy="1028.70" r="3.5" fill="#fff" stroke="#151515" stroke-width="0.9"/>
<circle cx="304.80" cy="1031.50" r="3.5" fill="#fff" stroke="#151515" stroke-width="0.9"/>
<circle cx="307.10" cy="1035.00" r="3.5" fill="#fff" stroke="#151515" stroke-width="0.9"/>
<circle cx="310.60" cy="1037.90" r="3.5" fill="#fff" stroke="#151515" stroke-width="0.9"/>
<circle cx="312.30" cy="1039.00" r="3.5" fill="#fff" stroke="#151515" stroke-width="0.9"/>
<circle cx="315.80" cy="1035.00" r="3.5" fill="#fff" stroke="#151515" stroke-width="0.9"/>
<circle cx="319.20" cy="1031.50" r="3.5" fill="#fff" stroke="#151515" stroke-width="0.9"/>
<circle cx="321.50" cy="1028.10" r="3.5" fill="#fff" stroke="#151515" stroke-width="0.9"/>
<circle cx="279.00" cy="978.50" r="3.5" fill="#fff" stroke="#151515" stroke-width="0.9"/>
<circle cx="281.20" cy="984.00" r="3.5" fill="#fff" stroke="#151515" stroke-width="0.9"/>
<circle cx="283.60" cy="989.80" r="3.5" fill="#fff" stroke="#151515" stroke-width="0.9"/>
<circle cx="287.20" cy="1000.50" r="3.5" fill="#fff" stroke="#151515" stroke-width="0.9"/>
<circle cx="290.80" cy="1006.00" r="3.5" fill="#fff" stroke="#151515" stroke-width="0.9"/>
<circle cx="293.80" cy="1014.50" r="3.5" fill="#fff" stroke="#151515" stroke-width="0.9"/>
<circle cx="297.00" cy="1020.50" r="3.5" fill="#fff" stroke="#151515" stroke-width="0.9"/>
<circle cx="300.20" cy="1026.00" r="3.5" fill="#fff" stroke="#151515" stroke-width="0.9"/>
<circle cx="303.20" cy="1030.20" r="3.5" fill="#fff" stroke="#151515" stroke-width="0.9"/>
<circle cx="306.00" cy="1033.80" r="3.5" fill="#fff" stroke="#151515" stroke-width="0.9"/>
<circle cx="309.00" cy="1037.00" r="3.5" fill="#fff" stroke="#151515" stroke-width="0.9"/>
<circle cx="283.10" cy="983.50" r="3.5" fill="#fff" stroke="#151515" stroke-width="0.9"/>
<circle cx="279.60" cy="980.00" r="3.5" fill="#fff" stroke="#151515" stroke-width="0.9"/>
<circle cx="278.50" cy="975.40" r="3.5" fill="#fff" stroke="#151515" stroke-width="0.9"/>
<circle cx="338.50" cy="992.70" r="3.5" fill="#fff" stroke="#151515" stroke-width="0.9"/>
<circle cx="337.90" cy="997.90" r="3.5" fill="#fff" stroke="#151515" stroke-width="0.9"/>
<circle cx="334.70" cy="1001.10" r="3.5" fill="#fff" stroke="#151515" stroke-width="0.9"/>
<circle cx="334.70" cy="1003.70" r="3.5" fill="#fff" stroke="#151515" stroke-width="0.9"/>
<circle cx="331.50" cy="1010.80" r="3.5" fill="#fff" stroke="#151515" stroke-width="0.9"/>
<circle cx="329.50" cy="1014.00" r="3.5" fill="#fff" stroke="#151515" stroke-width="0.9"/>
<circle cx="327.60" cy="1017.30" r="3.5" fill="#fff" stroke="#151515" stroke-width="0.9"/>
<circle cx="325.60" cy="1021.10" r="3.5" fill="#fff" stroke="#151515" stroke-width="0.9"/>
<circle cx="323.70" cy="1023.70" r="3.5" fill="#fff" stroke="#151515" stroke-width="0.9"/>
<circle cx="320.50" cy="1028.20" r="3.5" fill="#fff" stroke="#151515" stroke-width="0.9"/>
<circle cx="317.30" cy="1032.70" r="3.5" fill="#fff" stroke="#151515" stroke-width="0.9"/>
<circle cx="315.30" cy="1035.30" r="3.5" fill="#fff" stroke="#151515" stroke-width="0.9"/>
<circle cx="312.70" cy="1037.90" r="3.5" fill="#fff" stroke="#151515" stroke-width="0.9"/>
<circle cx="308.90" cy="1039.20" r="3.5" fill="#fff" stroke="#151515" stroke-width="0.9"/>
<circle cx="306.30" cy="1034.00" r="3.5" fill="#fff" stroke="#151515" stroke-width="0.9"/>
<circle cx="336.20" cy="999.50" r="3.5" fill="#fff" stroke="#151515" stroke-width="0.9"/>
<circle cx="333.00" cy="1007.00" r="3.5" fill="#fff" stroke="#151515" stroke-width="0.9"/>
<circle cx="330.50" cy="1012.50" r="3.5" fill="#fff" stroke="#151515" stroke-width="0.9"/>
<circle cx="326.50" cy="1019.00" r="3.5" fill="#fff" stroke="#151515" stroke-width="0.9"/>
<circle cx="322.00" cy="1026.00" r="3.5" fill="#fff" stroke="#151515" stroke-width="0.9"/>
<circle cx="319.00" cy="1030.00" r="3.5" fill="#fff" stroke="#151515" stroke-width="0.9"/>
<circle cx="273.50" cy="962.00" r="3.5" fill="#fff" stroke="#151515" stroke-width="0.9"/>
<circle cx="286.80" cy="985.00" r="3.5" fill="#fff" stroke="#151515" stroke-width="0.9"/>
<circle cx="289.50" cy="992.50" r="3.5" fill="#fff" stroke="#151515" stroke-width="0.9"/>
<circle cx="290.50" cy="998.00" r="3.5" fill="#fff" stroke="#151515" stroke-width="0.9"/>
<circle cx="293.50" cy="1005.00" r="3.5" fill="#fff" stroke="#151515" stroke-width="0.9"/>
<circle cx="296.50" cy="1011.00" r="3.5" fill="#fff" stroke="#151515" stroke-width="0.9"/>
<circle cx="299.00" cy="1017.00" r="3.5" fill="#fff" stroke="#151515" stroke-width="0.9"/>
<circle cx="302.00" cy="1022.50" r="3.5" fill="#fff" stroke="#151515" stroke-width="0.9"/>
<circle cx="305.00" cy="1027.00" r="3.5" fill="#fff" stroke="#151515" stroke-width="0.9"/>
<circle cx="207.70" cy="865.80" r="3.5" fill="#2f4c9f" stroke="#1a2a5a" stroke-width="0.7"/>
<circle cx="216.90" cy="865.80" r="3.5" fill="#2f4c9f" stroke="#1a2a5a" stroke-width="0.7"/>
<circle cx="231.00" cy="865.60" r="3.5" fill="#2f4c9f" stroke="#1a2a5a" stroke-width="0.7"/>
<circle cx="234.40" cy="865.60" r="3.5" fill="#2f4c9f" stroke="#1a2a5a" stroke-width="0.7"/>
<circle cx="237.30" cy="865.60" r="3.5" fill="#2f4c9f" stroke="#1a2a5a" stroke-width="0.7"/>
<circle cx="252.30" cy="865.60" r="3.5" fill="#2f4c9f" stroke="#1a2a5a" stroke-width="0.7"/>
<circle cx="259.20" cy="865.60" r="3.5" fill="#2f4c9f" stroke="#1a2a5a" stroke-width="0.7"/>
<circle cx="262.70" cy="865.60" r="3.5" fill="#2f4c9f" stroke="#1a2a5a" stroke-width="0.7"/>
<circle cx="266.20" cy="865.60" r="3.5" fill="#2f4c9f" stroke="#1a2a5a" stroke-width="0.7"/>
<circle cx="258.50" cy="884.00" r="3.5" fill="#2f4c9f" stroke="#1a2a5a" stroke-width="0.7"/>
<circle cx="265.00" cy="884.00" r="3.5" fill="#2f4c9f" stroke="#1a2a5a" stroke-width="0.7"/>
<circle cx="262.80" cy="908.80" r="3.5" fill="#2f4c9f" stroke="#1a2a5a" stroke-width="0.7"/>
<circle cx="369.40" cy="865.00" r="3.5" fill="#e0242b" stroke="#6a1014" stroke-width="0.7"/>
<circle cx="381.90" cy="865.00" r="3.5" fill="#e0242b" stroke="#6a1014" stroke-width="0.7"/>
<circle cx="364.60" cy="884.20" r="3.5" fill="#e0242b" stroke="#6a1014" stroke-width="0.7"/>
<circle cx="356.70" cy="909.00" r="3.5" fill="#e0242b" stroke="#6a1014" stroke-width="0.7"/>
<text x="141.00" y="868.70" font-size="8.5">NOCODAZOLE</text>
<text x="166.90" y="881.20" font-size="8.5">CK2A1/CSNK2A1</text>
<text x="197.70" y="860.00" font-size="8.5">CDK2</text>
<text x="205.00" y="850.80" font-size="8.5">CDK1</text>
<text x="228.80" y="845.30" font-size="8.5">CDC7</text>
<text x="246.80" y="834.20" font-size="8.5">DNAPK/PRKDC</text>
<text x="253.80" y="849.90" font-size="8.5">CDK7</text>
<text x="258.40" y="858.50" font-size="8.5">IONIZING RADIATION</text>
<text x="270.40" y="867.70" font-size="8.5">E TOPOSIDE</text>
<text x="260.90" y="876.30" font-size="8.5">P38D/MAPK13</text>
<text x="270.40" y="890.40" font-size="8.5">HYDROXYUREA</text>
<text x="268.80" y="910.40" font-size="8.5">H2O2</text>
<text x="382.30" y="860.20" font-size="8.5">CDK4</text>
<text x="345.00" y="877.50" font-size="8.5">MARK2</text>
<text x="370.40" y="889.60" font-size="8.5">ROCK1</text>
<text x="343.80" y="903.80" font-size="8.5">PDK1/PDPK1</text>
<text x="253.10" y="891.70" font-size="8.5" text-anchor="end">ATR</text>
</svg></body></html>
